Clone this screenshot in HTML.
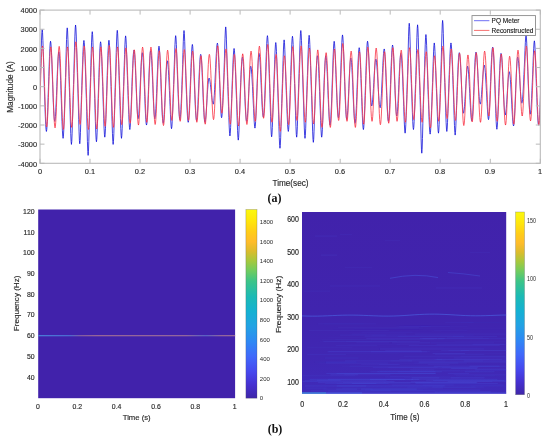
<!DOCTYPE html>
<html><head><meta charset="utf-8"><title>Figure</title><style>html,body{margin:0;padding:0;background:#fff}body{width:550px;height:440px;position:relative;overflow:hidden}</style></head><body>
<svg width="550" height="440" viewBox="0 0 550 440" style="display:block;position:absolute;left:0;top:0" font-family="'Liberation Sans', Arial, sans-serif">
<defs>
<clipPath id="c1"><rect x="40.0" y="10.1" width="500.3" height="153.2"/></clipPath>
<linearGradient id="par" x1="0" y1="1" x2="0" y2="0"><stop offset="0" stop-color="#3e26a8"/><stop offset="0.07" stop-color="#4530d0"/><stop offset="0.14" stop-color="#4648ee"/><stop offset="0.22" stop-color="#4068fb"/><stop offset="0.3" stop-color="#2e88f4"/><stop offset="0.38" stop-color="#22a2e4"/><stop offset="0.46" stop-color="#14b1d2"/><stop offset="0.54" stop-color="#1cbab4"/><stop offset="0.62" stop-color="#3cc488"/><stop offset="0.68" stop-color="#74cc5c"/><stop offset="0.73" stop-color="#a8c83c"/><stop offset="0.78" stop-color="#dcbc2c"/><stop offset="0.83" stop-color="#ffbc2a"/><stop offset="0.88" stop-color="#ffcc18"/><stop offset="0.94" stop-color="#ffe60c"/><stop offset="1" stop-color="#fbf80e"/></linearGradient>
<linearGradient id="l60" x1="0" y1="0" x2="1" y2="0"><stop offset="0" stop-color="#4a86dc"/><stop offset="0.16" stop-color="#4d70d4"/><stop offset="0.22" stop-color="#8a62a0"/><stop offset="0.3" stop-color="#a06c96"/><stop offset="0.75" stop-color="#9a6c9c"/><stop offset="0.85" stop-color="#5a66c8"/><stop offset="0.93" stop-color="#9a6c9c"/><stop offset="1" stop-color="#a07098"/></linearGradient>
<linearGradient id="rbg" x1="0" y1="0" x2="0" y2="1"><stop offset="0" stop-color="#4122ab"/><stop offset="0.55" stop-color="#4024ae"/><stop offset="0.8" stop-color="#4027b3"/><stop offset="1" stop-color="#3f2bba"/></linearGradient>
<filter id="bl" x="0" y="0" width="550" height="440" filterUnits="userSpaceOnUse"><feGaussianBlur stdDeviation="0.5"/></filter>
</defs>
<rect width="550" height="440" fill="#fff"/>
<g clip-path="url(#c1)"><g fill="none" stroke-linejoin="round" filter="url(#bl)">
<path transform="translate(-0.3 0)" d="M38.36 124.88 L38.70 123.54 L39.05 119.60 L39.39 113.33 L39.74 105.16 L40.08 95.64 L40.43 85.43 L40.77 75.15 L41.12 63.60 L41.46 51.25 L41.81 40.12 L42.15 32.36 L42.50 29.57 L42.85 32.43 L43.20 40.39 L43.55 51.74 L43.90 64.28 L44.25 75.93 L44.60 86.43 L44.95 96.91 L45.30 107.19 L45.65 116.73 L46.00 124.53 L46.35 129.66 L46.70 131.46 L47.05 129.69 L47.39 124.63 L47.74 116.92 L48.08 107.48 L48.43 97.27 L48.77 86.90 L49.12 76.53 L49.46 66.19 L49.81 56.45 L50.15 48.40 L50.50 43.07 L50.84 41.21 L51.19 42.99 L51.54 48.08 L51.89 55.71 L52.24 64.87 L52.59 74.50 L52.94 84.14 L53.29 93.77 L53.64 102.74 L53.99 110.45 L54.34 116.36 L54.69 120.08 L55.04 121.34 L55.39 120.16 L55.73 116.68 L56.08 111.15 L56.42 103.93 L56.77 95.54 L57.11 86.52 L57.46 77.51 L57.80 69.11 L58.15 61.90 L58.49 56.37 L58.84 52.89 L59.18 51.70 L59.53 53.03 L59.88 56.92 L60.23 63.10 L60.58 71.16 L60.93 80.55 L61.28 90.63 L61.63 100.72 L61.98 111.11 L62.33 121.40 L62.68 130.22 L63.03 136.21 L63.38 138.33 L63.73 136.15 L64.07 129.97 L64.42 120.81 L64.76 110.02 L65.11 98.97 L65.46 88.24 L65.80 77.47 L66.15 65.14 L66.49 51.73 L66.84 39.51 L67.18 30.94 L67.53 27.85 L67.88 30.95 L68.23 39.52 L68.58 51.65 L68.93 64.83 L69.28 76.73 L69.63 87.19 L69.98 97.64 L70.33 109.31 L70.68 121.95 L71.03 133.45 L71.38 141.52 L71.73 144.43 L72.07 141.48 L72.42 133.24 L72.76 121.40 L73.11 108.21 L73.45 95.77 L73.80 84.62 L74.14 73.46 L74.49 61.05 L74.83 47.90 L75.18 36.12 L75.52 27.93 L75.87 24.99 L76.22 27.92 L76.57 36.05 L76.92 47.67 L77.27 60.49 L77.62 72.40 L77.97 83.14 L78.32 93.88 L78.67 106.07 L79.02 119.52 L79.37 131.88 L79.72 140.61 L80.07 143.76 L80.41 140.73 L80.76 132.32 L81.10 120.37 L81.45 107.33 L81.79 95.48 L82.14 85.24 L82.48 75.05 L82.83 64.90 L83.17 55.36 L83.52 47.48 L83.86 42.27 L84.21 40.44 L84.56 42.37 L84.91 47.86 L85.26 56.17 L85.61 66.22 L85.96 76.94 L86.31 87.76 L86.66 98.63 L87.01 111.68 L87.36 126.89 L87.71 141.30 L88.06 151.64 L88.41 155.40 L88.76 151.72 L89.10 141.57 L89.45 127.35 L89.79 112.20 L90.14 99.04 L90.48 88.24 L90.83 77.48 L91.17 65.63 L91.52 53.19 L91.86 42.10 L92.21 34.42 L92.55 31.67 L92.90 34.45 L93.25 42.19 L93.60 53.29 L93.95 65.66 L94.30 77.31 L94.65 87.95 L95.00 98.60 L95.35 109.96 L95.70 121.70 L96.05 132.06 L96.40 139.21 L96.75 141.76 L97.10 139.24 L97.44 132.16 L97.79 121.86 L98.13 110.10 L98.48 98.62 L98.82 87.95 L99.17 77.32 L99.51 66.78 L99.86 56.97 L100.20 48.93 L100.55 43.63 L100.89 41.78 L101.24 43.60 L101.59 48.79 L101.94 56.65 L102.29 66.17 L102.64 76.34 L102.99 86.62 L103.34 96.91 L103.69 107.73 L104.04 118.71 L104.39 128.29 L104.74 134.84 L105.09 137.18 L105.44 134.84 L105.78 128.27 L106.13 118.62 L106.47 107.47 L106.82 96.37 L107.17 85.86 L107.51 75.36 L107.86 64.97 L108.20 55.28 L108.55 47.33 L108.89 42.09 L109.24 40.25 L109.59 42.12 L109.94 47.44 L110.29 55.51 L110.64 65.31 L110.99 75.80 L111.34 86.43 L111.69 97.08 L112.04 108.93 L112.39 121.73 L112.74 133.35 L113.09 141.50 L113.44 144.43 L113.78 141.56 L114.13 133.58 L114.47 122.16 L114.82 109.49 L115.16 97.68 L115.51 87.19 L115.85 76.70 L116.20 64.94 L116.54 52.37 L116.89 41.06 L117.23 33.17 L117.58 30.33 L117.93 33.16 L118.28 41.00 L118.63 52.17 L118.98 64.43 L119.33 75.71 L119.68 85.81 L120.03 95.90 L120.38 106.84 L120.73 118.35 L121.08 128.63 L121.43 135.77 L121.78 138.33 L122.12 135.82 L122.47 128.80 L122.81 118.66 L123.16 107.23 L123.50 96.28 L123.85 86.28 L124.19 76.30 L124.54 65.55 L124.88 54.53 L125.23 44.87 L125.57 38.23 L125.92 35.87 L126.27 38.24 L126.62 44.87 L126.97 54.47 L127.32 65.32 L127.67 75.79 L128.02 85.57 L128.37 95.33 L128.72 105.15 L129.07 114.55 L129.42 122.43 L129.77 127.70 L130.12 129.55 L130.47 127.75 L130.81 122.63 L131.16 114.96 L131.50 105.79 L131.85 96.20 L132.19 86.71 L132.54 77.26 L132.88 68.44 L133.23 60.88 L133.57 55.07 L133.92 51.42 L134.26 50.18 L134.61 51.34 L134.96 54.76 L135.31 60.21 L135.66 67.30 L136.01 75.56 L136.36 84.42 L136.71 93.29 L137.06 101.55 L137.41 108.64 L137.76 114.08 L138.11 117.51 L138.46 118.67 L138.81 117.55 L139.15 114.25 L139.50 109.00 L139.84 102.17 L140.19 94.21 L140.53 85.66 L140.88 77.12 L141.22 69.16 L141.57 62.32 L141.91 57.08 L142.26 53.78 L142.60 52.66 L142.95 53.84 L143.30 57.32 L143.65 62.85 L144.00 70.07 L144.35 78.46 L144.70 87.48 L145.05 96.49 L145.40 105.21 L145.75 113.12 L146.10 119.49 L146.45 123.63 L146.80 125.06 L147.15 123.60 L147.49 119.38 L147.84 112.88 L148.18 104.76 L148.53 95.79 L148.88 86.52 L149.22 77.26 L149.57 68.64 L149.91 61.23 L150.26 55.54 L150.60 51.97 L150.95 50.75 L151.30 51.91 L151.65 55.30 L152.00 60.70 L152.35 67.73 L152.70 75.92 L153.05 84.71 L153.40 93.50 L153.75 101.69 L154.10 108.73 L154.45 114.12 L154.80 117.52 L155.15 118.67 L155.49 117.52 L155.84 114.12 L156.18 108.73 L156.53 101.69 L156.87 93.50 L157.22 84.71 L157.56 75.90 L157.91 67.14 L158.25 58.94 L158.60 52.19 L158.94 47.73 L159.29 46.17 L159.64 47.82 L159.99 52.53 L160.34 59.67 L160.69 68.34 L161.04 77.61 L161.39 87.00 L161.74 96.38 L162.09 105.13 L162.44 112.63 L162.79 118.40 L163.14 122.02 L163.49 123.25 L163.83 122.19 L164.18 119.07 L164.52 114.10 L164.87 107.63 L165.21 100.09 L165.56 92.01 L165.90 83.92 L166.25 76.39 L166.59 69.92 L166.94 64.95 L167.28 61.83 L167.63 60.77 L167.98 61.78 L168.33 64.77 L168.68 69.51 L169.03 75.70 L169.38 82.90 L169.73 90.63 L170.08 98.37 L170.43 106.52 L170.78 114.78 L171.13 121.99 L171.48 126.93 L171.83 128.69 L172.18 126.74 L172.52 121.23 L172.87 113.08 L173.21 103.53 L173.56 93.83 L173.90 84.47 L174.25 75.10 L174.59 64.83 L174.94 54.11 L175.28 44.60 L175.63 38.03 L175.97 35.67 L176.32 38.04 L176.67 44.65 L177.02 54.14 L177.37 64.76 L177.72 74.81 L178.07 84.04 L178.42 93.25 L178.77 101.83 L179.12 109.20 L179.47 114.86 L179.82 118.41 L180.17 119.63 L180.52 118.43 L180.86 114.93 L181.21 109.36 L181.55 102.10 L181.90 93.64 L182.24 84.57 L182.59 75.41 L182.93 64.61 L183.28 52.51 L183.62 41.32 L183.97 33.39 L184.31 30.52 L184.66 33.45 L185.01 41.52 L185.36 52.87 L185.71 65.03 L186.06 75.78 L186.41 85.00 L186.76 94.19 L187.11 102.95 L187.46 110.76 L187.81 116.95 L188.16 120.92 L188.51 122.30 L188.86 120.96 L189.20 117.07 L189.55 111.02 L189.89 103.38 L190.24 94.79 L190.59 85.81 L190.93 76.80 L191.28 67.61 L191.62 58.73 L191.97 51.24 L192.31 46.22 L192.66 44.45 L193.01 46.24 L193.36 51.30 L193.71 58.83 L194.06 67.71 L194.41 76.85 L194.76 85.86 L195.11 94.84 L195.46 103.22 L195.81 110.41 L196.16 115.93 L196.51 119.40 L196.86 120.58 L197.20 119.48 L197.55 116.24 L197.89 111.08 L198.24 104.36 L198.58 96.54 L198.93 88.14 L199.27 79.74 L199.62 71.76 L199.96 64.70 L200.31 59.15 L200.65 55.60 L201.00 54.37 L201.35 55.63 L201.70 59.27 L202.05 64.97 L202.40 72.20 L202.75 80.38 L203.10 89.00 L203.45 97.62 L203.80 105.65 L204.15 112.55 L204.50 117.84 L204.85 121.16 L205.20 122.30 L205.54 121.54 L205.89 119.33 L206.23 115.82 L206.58 111.23 L206.92 105.89 L207.27 100.17 L207.61 94.44 L207.96 89.10 L208.30 84.51 L208.65 81.00 L208.99 78.79 L209.34 78.03 L209.69 78.48 L210.04 79.78 L210.39 81.86 L210.74 84.57 L211.09 87.72 L211.44 91.10 L211.79 94.48 L212.14 97.64 L212.49 100.34 L212.84 102.42 L213.19 103.73 L213.54 104.17 L213.89 103.18 L214.23 100.26 L214.58 95.62 L214.92 89.58 L215.27 82.54 L215.61 74.98 L215.96 67.41 L216.30 60.04 L216.65 53.31 L216.99 47.88 L217.34 44.35 L217.68 43.12 L218.03 44.51 L218.38 48.51 L218.73 54.67 L219.08 62.34 L219.43 70.78 L219.78 79.51 L220.13 88.25 L220.48 96.90 L220.83 105.02 L221.18 111.73 L221.53 116.16 L221.88 117.72 L222.23 116.23 L222.57 111.97 L222.92 105.54 L223.26 97.73 L223.61 89.42 L223.95 81.09 L224.30 72.67 L224.64 62.19 L224.99 49.91 L225.33 38.28 L225.68 29.93 L226.02 26.90 L226.37 30.17 L226.72 39.19 L227.07 51.79 L227.42 65.18 L227.77 76.79 L228.12 86.57 L228.47 96.33 L228.82 106.76 L229.17 117.53 L229.52 127.04 L229.87 133.60 L230.22 135.94 L230.57 133.72 L230.91 127.49 L231.26 118.47 L231.60 108.25 L231.95 98.38 L232.30 89.29 L232.64 80.23 L232.99 71.07 L233.33 62.34 L233.68 55.04 L234.02 50.17 L234.37 48.46 L234.72 50.21 L235.07 55.20 L235.42 62.66 L235.77 71.57 L236.12 80.88 L236.47 90.15 L236.82 99.43 L237.17 109.70 L237.52 120.71 L237.87 130.67 L238.22 137.63 L238.57 140.14 L238.91 137.71 L239.26 130.97 L239.60 121.29 L239.95 110.55 L240.29 100.49 L240.64 91.53 L240.98 82.63 L241.33 74.34 L241.67 67.21 L242.02 61.75 L242.36 58.31 L242.71 57.14 L243.06 58.23 L243.41 61.44 L243.76 66.54 L244.11 73.19 L244.46 80.93 L244.81 89.24 L245.16 97.55 L245.51 105.29 L245.86 111.94 L246.21 117.04 L246.56 120.25 L246.91 121.34 L247.25 120.40 L247.60 117.65 L247.94 113.27 L248.29 107.56 L248.63 100.91 L248.98 93.77 L249.32 86.64 L249.67 79.99 L250.01 74.28 L250.36 69.90 L250.70 67.14 L251.05 66.20 L251.40 67.14 L251.75 69.90 L252.10 74.28 L252.45 79.99 L252.80 86.64 L253.15 93.77 L253.50 100.92 L253.85 108.35 L254.20 115.78 L254.55 122.20 L254.90 126.57 L255.25 128.12 L255.60 126.36 L255.94 121.39 L256.29 113.99 L256.63 105.23 L256.98 96.20 L257.32 87.38 L257.67 78.59 L258.01 70.40 L258.36 63.37 L258.70 57.97 L259.05 54.58 L259.39 53.42 L259.74 54.50 L260.09 57.68 L260.44 62.72 L260.79 69.30 L261.14 76.97 L261.49 85.19 L261.84 93.41 L262.19 101.07 L262.54 107.65 L262.89 112.70 L263.24 115.87 L263.59 116.96 L263.94 115.72 L264.28 112.10 L264.63 106.34 L264.97 98.83 L265.32 90.09 L265.66 80.70 L266.01 71.28 L266.35 61.45 L266.70 51.71 L267.04 43.35 L267.39 37.68 L267.73 35.67 L268.08 37.79 L268.43 43.78 L268.78 52.60 L269.13 62.89 L269.48 73.28 L269.83 83.37 L270.18 93.48 L270.53 104.53 L270.88 116.27 L271.23 126.81 L271.58 134.16 L271.93 136.80 L272.28 134.37 L272.62 127.59 L272.97 117.90 L273.31 107.17 L273.66 97.19 L274.00 88.34 L274.35 79.50 L274.70 69.84 L275.04 59.79 L275.39 50.89 L275.73 44.74 L276.08 42.54 L276.43 44.93 L276.78 51.60 L277.13 61.28 L277.48 72.26 L277.83 82.92 L278.18 92.91 L278.53 102.92 L278.88 114.15 L279.23 126.39 L279.58 137.56 L279.93 145.42 L280.28 148.25 L280.62 145.48 L280.97 137.78 L281.31 126.79 L281.66 114.67 L282.00 103.46 L282.35 93.58 L282.69 83.71 L283.04 72.62 L283.38 60.74 L283.73 50.03 L284.07 42.56 L284.42 39.87 L284.77 42.48 L285.12 49.70 L285.47 59.94 L285.82 71.10 L286.17 81.24 L286.52 90.20 L286.87 99.13 L287.22 108.23 L287.57 117.09 L287.92 124.61 L288.27 129.67 L288.62 131.46 L288.96 129.53 L289.31 124.05 L289.65 115.83 L290.00 106.02 L290.34 95.76 L290.69 85.62 L291.03 75.46 L291.38 64.76 L291.72 54.05 L292.07 44.79 L292.41 38.49 L292.76 36.25 L293.11 38.44 L293.46 44.59 L293.81 53.56 L294.16 63.83 L294.51 73.93 L294.86 83.52 L295.21 93.12 L295.56 103.95 L295.91 115.84 L296.26 126.74 L296.61 134.41 L296.96 137.18 L297.31 134.44 L297.65 126.82 L298.00 115.95 L298.34 103.97 L298.69 92.91 L299.03 83.18 L299.38 73.47 L299.72 62.57 L300.07 50.93 L300.41 40.45 L300.76 33.15 L301.10 30.52 L301.45 33.21 L301.80 40.70 L302.15 51.38 L302.50 63.19 L302.85 74.17 L303.20 84.09 L303.55 94.01 L303.90 105.07 L304.25 117.05 L304.60 127.93 L304.95 135.57 L305.30 138.33 L305.65 135.65 L305.99 128.21 L306.34 117.56 L306.68 105.79 L307.03 94.86 L307.37 85.19 L307.72 75.53 L308.06 65.00 L308.41 54.05 L308.75 44.37 L309.10 37.68 L309.44 35.29 L309.79 37.74 L310.14 44.57 L310.49 54.43 L310.84 65.52 L311.19 76.12 L311.54 85.95 L311.89 95.79 L312.24 107.05 L312.59 119.59 L312.94 131.17 L313.29 139.37 L313.64 142.33 L313.99 139.54 L314.33 131.83 L314.68 120.93 L315.02 109.17 L315.37 98.66 L315.72 89.77 L316.06 80.95 L316.41 72.74 L316.75 65.68 L317.10 60.27 L317.44 56.87 L317.79 55.71 L318.14 56.93 L318.49 60.51 L318.84 66.21 L319.19 73.64 L319.54 82.30 L319.89 91.58 L320.24 100.88 L320.59 110.65 L320.94 120.55 L321.29 129.17 L321.64 135.08 L321.99 137.18 L322.33 135.10 L322.68 129.25 L323.02 120.67 L323.37 110.76 L323.71 100.90 L324.06 91.58 L324.40 82.30 L324.75 73.64 L325.09 66.21 L325.44 60.51 L325.78 56.93 L326.13 55.71 L326.48 56.89 L326.83 60.36 L327.18 65.88 L327.53 73.07 L327.88 81.45 L328.23 90.43 L328.58 99.42 L328.93 107.80 L329.28 114.99 L329.63 120.51 L329.98 123.98 L330.33 125.16 L330.67 123.86 L331.02 120.05 L331.36 114.00 L331.71 106.10 L332.05 96.91 L332.40 87.05 L332.74 77.15 L333.09 67.01 L333.43 57.18 L333.78 48.86 L334.12 43.27 L334.47 41.30 L334.82 43.17 L335.17 48.42 L335.52 56.18 L335.87 65.24 L336.22 74.41 L336.57 83.33 L336.92 92.23 L337.27 100.52 L337.62 107.65 L337.97 113.11 L338.32 116.55 L338.67 117.72 L339.02 116.45 L339.36 112.75 L339.71 106.85 L340.05 99.16 L340.40 90.21 L340.74 80.61 L341.09 70.97 L341.43 60.95 L341.78 51.08 L342.12 42.64 L342.47 36.93 L342.81 34.91 L343.16 36.98 L343.51 42.82 L343.86 51.44 L344.21 61.48 L344.56 71.62 L344.91 81.47 L345.26 91.29 L345.61 100.45 L345.96 108.32 L346.31 114.35 L346.66 118.14 L347.01 119.44 L347.36 118.39 L347.70 115.32 L348.05 110.44 L348.39 104.08 L348.74 96.67 L349.08 88.72 L349.43 80.77 L349.77 73.36 L350.12 67.00 L350.46 62.11 L350.81 59.05 L351.15 58.00 L351.50 59.11 L351.85 62.37 L352.20 67.55 L352.55 74.31 L352.90 82.18 L353.25 90.63 L353.60 99.07 L353.95 106.94 L354.30 113.70 L354.65 118.88 L355.00 122.14 L355.35 123.25 L355.70 122.03 L356.04 118.46 L356.39 112.77 L356.73 105.36 L357.08 96.74 L357.43 87.48 L357.77 78.20 L358.12 69.08 L358.46 60.65 L358.81 53.77 L359.15 49.27 L359.50 47.70 L359.85 49.29 L360.20 53.87 L360.55 60.84 L360.90 69.36 L361.25 78.56 L361.60 87.95 L361.95 97.35 L362.30 106.70 L362.65 115.57 L363.00 122.93 L363.35 127.83 L363.70 129.55 L364.04 127.76 L364.39 122.67 L364.73 114.96 L365.08 105.62 L365.42 95.66 L365.77 85.66 L366.11 75.66 L366.46 65.64 L366.80 56.15 L367.15 48.27 L367.49 43.04 L367.84 41.21 L368.19 42.75 L368.54 47.10 L368.89 53.55 L369.24 61.15 L369.59 68.93 L369.94 76.55 L370.29 84.17 L370.64 91.27 L370.99 97.36 L371.34 102.04 L371.69 104.98 L372.04 105.98 L372.38 105.18 L372.73 102.83 L373.07 99.10 L373.42 94.23 L373.76 88.55 L374.11 82.47 L374.45 76.38 L374.80 70.71 L375.14 65.84 L375.49 62.10 L375.83 59.75 L376.18 58.95 L376.53 59.78 L376.88 62.22 L377.23 66.11 L377.58 71.16 L377.93 77.05 L378.28 83.37 L378.63 89.70 L378.98 95.59 L379.33 100.64 L379.68 104.53 L380.03 106.97 L380.38 107.80 L380.73 106.84 L381.07 104.04 L381.42 99.58 L381.76 93.77 L382.11 87.01 L382.45 79.75 L382.80 72.48 L383.14 65.37 L383.49 58.86 L383.83 53.58 L384.18 50.13 L384.52 48.94 L384.87 50.37 L385.22 54.51 L385.57 60.88 L385.92 68.79 L386.27 77.51 L386.62 86.52 L386.97 95.54 L387.32 103.93 L387.67 111.15 L388.02 116.68 L388.37 120.16 L388.72 121.34 L389.07 120.09 L389.41 116.41 L389.76 110.56 L390.10 102.93 L390.45 94.05 L390.79 84.52 L391.14 74.98 L391.48 65.77 L391.83 57.46 L392.17 50.82 L392.52 46.51 L392.86 45.02 L393.21 46.43 L393.56 50.48 L393.91 56.71 L394.26 64.46 L394.61 73.00 L394.96 81.85 L395.31 90.69 L395.66 98.92 L396.01 106.00 L396.36 111.43 L396.71 114.84 L397.06 116.00 L397.41 114.94 L397.75 111.81 L398.10 106.84 L398.44 100.36 L398.79 92.81 L399.13 84.71 L399.48 76.61 L399.83 69.06 L400.17 62.58 L400.52 57.61 L400.86 54.49 L401.21 53.42 L401.56 54.59 L401.91 58.03 L402.26 63.51 L402.61 70.64 L402.96 78.95 L403.31 87.86 L403.66 96.79 L404.01 106.35 L404.36 116.24 L404.71 124.98 L405.06 131.02 L405.41 133.17 L405.75 130.95 L406.10 124.68 L406.44 115.54 L406.79 105.04 L407.13 94.70 L407.48 85.00 L407.82 75.24 L408.17 63.22 L408.51 49.27 L408.86 36.11 L409.20 26.69 L409.55 23.27 L409.90 26.71 L410.25 36.13 L410.60 49.18 L410.95 62.82 L411.30 74.31 L411.65 83.66 L412.00 92.99 L412.35 102.80 L412.70 112.77 L413.05 121.47 L413.40 127.43 L413.75 129.55 L414.09 127.48 L414.44 121.67 L414.78 113.16 L415.13 103.37 L415.47 93.68 L415.82 84.57 L416.16 75.39 L416.51 63.87 L416.85 50.32 L417.20 37.43 L417.54 28.17 L417.89 24.80 L418.24 28.27 L418.59 37.80 L418.94 51.01 L419.29 64.81 L419.64 76.44 L419.99 85.90 L420.34 95.38 L420.69 107.72 L421.04 123.09 L421.39 138.16 L421.74 149.17 L422.09 153.21 L422.44 149.28 L422.78 138.55 L423.13 123.79 L423.47 108.61 L423.82 96.27 L424.16 87.00 L424.51 77.79 L424.85 67.15 L425.20 55.47 L425.54 44.77 L425.89 37.24 L426.23 34.53 L426.58 37.38 L426.93 45.28 L427.28 56.49 L427.63 68.73 L427.98 79.88 L428.33 89.77 L428.68 99.63 L429.03 109.54 L429.38 119.02 L429.73 126.96 L430.08 132.26 L430.43 134.13 L430.78 132.34 L431.12 127.27 L431.47 119.68 L431.81 110.61 L432.16 101.13 L432.50 91.77 L432.85 82.38 L433.19 72.10 L433.54 61.38 L433.88 51.86 L434.23 45.28 L434.57 42.93 L434.92 45.20 L435.27 51.53 L435.62 60.58 L435.97 70.62 L436.32 80.01 L436.67 88.53 L437.02 97.04 L437.37 106.32 L437.72 116.12 L438.07 124.89 L438.42 130.99 L438.77 133.17 L439.12 130.85 L439.46 124.34 L439.81 114.86 L440.15 104.06 L440.50 93.53 L440.85 83.76 L441.19 73.92 L441.54 61.66 L441.88 47.32 L442.23 33.72 L442.57 23.96 L442.92 20.41 L443.27 23.98 L443.62 33.74 L443.97 47.24 L444.32 61.28 L444.67 72.99 L445.02 82.42 L445.37 91.83 L445.72 102.04 L446.07 112.79 L446.42 122.39 L446.77 129.07 L447.12 131.46 L447.46 129.14 L447.81 122.68 L448.15 113.35 L448.50 102.88 L448.84 92.88 L449.19 83.80 L449.53 74.75 L449.88 65.60 L450.22 56.85 L450.57 49.53 L450.91 44.64 L451.26 42.93 L451.61 44.69 L451.96 49.70 L452.31 57.19 L452.66 66.12 L453.01 75.44 L453.36 84.71 L453.71 94.00 L454.06 104.31 L454.41 115.42 L454.76 125.49 L455.11 132.54 L455.46 135.08 L455.80 132.64 L456.15 125.85 L456.49 116.14 L456.84 105.40 L457.18 95.41 L457.53 86.57 L457.87 77.79 L458.22 69.61 L458.56 62.59 L458.91 57.20 L459.25 53.81 L459.60 52.66 L459.95 53.69 L460.30 56.71 L460.65 61.53 L461.00 67.80 L461.35 75.11 L461.70 82.95 L462.05 90.78 L462.40 98.09 L462.75 104.36 L463.10 109.18 L463.45 112.20 L463.80 113.23 L464.15 112.43 L464.49 110.08 L464.84 106.35 L465.18 101.48 L465.53 95.81 L465.87 89.72 L466.22 83.63 L466.56 77.96 L466.91 73.09 L467.25 69.35 L467.60 67.00 L467.94 66.20 L468.29 67.14 L468.64 69.87 L468.99 74.22 L469.34 79.89 L469.69 86.50 L470.04 93.58 L470.39 100.67 L470.74 107.27 L471.09 112.94 L471.44 117.29 L471.79 120.03 L472.14 120.96 L472.49 119.79 L472.83 116.35 L473.18 110.88 L473.52 103.74 L473.87 95.44 L474.21 86.52 L474.56 77.61 L474.90 69.30 L475.25 62.17 L475.59 56.70 L475.94 53.26 L476.28 52.08 L476.63 52.97 L476.98 55.57 L477.33 59.71 L477.68 65.11 L478.03 71.39 L478.38 78.13 L478.73 84.87 L479.08 91.15 L479.43 96.54 L479.78 100.68 L480.13 103.28 L480.48 104.17 L480.83 103.51 L481.17 101.56 L481.52 98.47 L481.86 94.44 L482.21 89.75 L482.56 84.71 L482.90 79.67 L483.25 74.98 L483.59 70.95 L483.94 67.86 L484.28 65.91 L484.63 65.25 L484.98 66.11 L485.33 68.65 L485.68 72.68 L486.03 77.94 L486.38 84.06 L486.73 90.63 L487.08 97.20 L487.43 103.74 L487.78 109.91 L488.13 115.03 L488.48 118.43 L488.83 119.63 L489.17 118.13 L489.52 113.85 L489.86 107.30 L490.21 99.25 L490.55 90.49 L490.90 81.56 L491.24 72.65 L491.59 64.34 L491.93 57.21 L492.28 51.74 L492.62 48.30 L492.97 47.12 L493.32 48.39 L493.67 52.09 L494.02 57.99 L494.37 65.68 L494.72 74.63 L495.07 84.23 L495.42 93.85 L495.77 103.71 L496.12 113.41 L496.47 121.69 L496.82 127.28 L497.17 129.26 L497.51 127.41 L497.86 122.17 L498.20 114.43 L498.55 105.38 L498.89 96.20 L499.24 87.38 L499.58 78.59 L499.93 70.40 L500.27 63.37 L500.62 57.97 L500.96 54.58 L501.31 53.42 L501.66 54.47 L502.01 57.55 L502.36 62.44 L502.71 68.83 L503.06 76.26 L503.41 84.23 L503.76 92.21 L504.11 99.64 L504.46 106.02 L504.81 110.92 L505.16 114.00 L505.51 115.05 L505.86 114.31 L506.20 112.15 L506.55 108.70 L506.89 104.22 L507.24 99.00 L507.58 93.39 L507.93 87.79 L508.27 82.56 L508.62 78.08 L508.96 74.64 L509.31 72.47 L509.65 71.74 L510.00 72.63 L510.35 75.25 L510.70 79.42 L511.05 84.85 L511.40 91.18 L511.75 97.97 L512.10 104.76 L512.45 111.29 L512.80 117.16 L513.15 121.84 L513.50 124.87 L513.85 125.92 L514.20 124.63 L514.54 120.88 L514.89 115.04 L515.23 107.66 L515.58 99.36 L515.92 90.67 L516.27 81.99 L516.61 73.91 L516.96 66.96 L517.30 61.63 L517.65 58.28 L517.99 57.14 L518.34 57.92 L518.69 60.23 L519.04 63.89 L519.39 68.66 L519.74 74.22 L520.09 80.18 L520.44 86.14 L520.79 91.70 L521.14 96.47 L521.49 100.13 L521.84 102.43 L522.19 103.22 L522.54 102.25 L522.88 99.40 L523.23 94.86 L523.57 88.96 L523.92 82.08 L524.27 74.69 L524.61 67.26 L524.96 58.99 L525.30 50.21 L525.65 42.35 L525.99 36.87 L526.34 34.91 L526.69 37.09 L527.04 43.17 L527.39 51.96 L527.74 61.86 L528.09 71.36 L528.44 80.18 L528.79 88.98 L529.14 97.18 L529.49 104.23 L529.84 109.63 L530.19 113.03 L530.54 114.19 L530.88 113.11 L531.23 109.94 L531.57 104.90 L531.92 98.33 L532.26 90.68 L532.61 82.47 L532.95 74.22 L533.30 65.34 L533.64 56.24 L533.99 48.26 L534.33 42.78 L534.68 40.83 L535.03 42.99 L535.38 49.08 L535.73 57.97 L536.08 68.19 L536.43 78.31 L536.78 87.95 L537.13 97.58 L537.48 106.56 L537.83 114.26 L538.18 120.18 L538.53 123.89 L538.88 125.16 L539.22 123.95 L539.57 120.42 L539.91 114.79 L540.26 107.46 L540.60 98.93 L540.95 89.77 L541.29 80.61 L541.64 72.07 L541.98 64.74 L542.33 59.12 L542.67 55.58 L543.02 54.37" stroke="#0000d6" stroke-width="0.74"/>
<path d="M38.36 124.88 L38.70 123.54 L39.05 119.60 L39.39 113.33 L39.74 105.16 L40.08 95.64 L40.43 85.43 L40.77 75.22 L41.12 65.70 L41.46 57.53 L41.81 51.26 L42.15 47.32 L42.50 45.98 L42.85 47.36 L43.20 51.40 L43.55 57.83 L43.90 66.20 L44.25 75.96 L44.60 86.43 L44.95 96.90 L45.30 106.65 L45.65 115.03 L46.00 121.46 L46.35 125.50 L46.70 126.88 L47.05 125.52 L47.39 121.52 L47.74 115.17 L48.08 106.89 L48.43 97.25 L48.77 86.90 L49.12 76.56 L49.46 66.92 L49.81 58.64 L50.15 52.29 L50.50 48.29 L50.84 46.93 L51.19 48.31 L51.54 52.35 L51.89 58.78 L52.24 67.16 L52.59 76.91 L52.94 87.38 L53.29 97.85 L53.64 107.61 L53.99 115.98 L54.34 122.41 L54.69 126.45 L55.04 127.83 L55.39 126.44 L55.73 122.37 L56.08 115.90 L56.42 107.46 L56.77 97.64 L57.11 87.10 L57.46 76.55 L57.80 66.73 L58.15 58.29 L58.49 51.82 L58.84 47.75 L59.18 46.36 L59.53 47.78 L59.88 51.93 L60.23 58.54 L60.58 67.16 L60.93 77.19 L61.28 87.95 L61.63 98.72 L61.98 108.75 L62.33 117.37 L62.68 123.98 L63.03 128.13 L63.38 129.55 L63.73 128.14 L64.07 124.01 L64.42 117.45 L64.76 108.89 L65.11 98.93 L65.46 88.24 L65.80 77.55 L66.15 67.59 L66.49 59.03 L66.84 52.47 L67.18 48.34 L67.53 46.93 L67.88 48.30 L68.23 52.33 L68.58 58.72 L68.93 67.06 L69.28 76.77 L69.63 87.19 L69.98 97.61 L70.33 107.32 L70.68 115.66 L71.03 122.06 L71.38 126.08 L71.73 127.45 L72.07 125.99 L72.42 121.71 L72.76 114.90 L73.11 106.03 L73.45 95.70 L73.80 84.62 L74.14 73.53 L74.49 63.20 L74.83 54.33 L75.18 47.52 L75.52 43.24 L75.87 41.78 L76.22 43.19 L76.57 47.32 L76.92 53.89 L77.27 62.46 L77.62 72.43 L77.97 83.14 L78.32 93.84 L78.67 103.81 L79.02 112.38 L79.37 118.95 L79.72 123.08 L80.07 124.49 L80.41 123.15 L80.76 119.23 L81.10 112.99 L81.45 104.86 L81.79 95.40 L82.14 85.24 L82.48 75.07 L82.83 65.61 L83.17 57.48 L83.52 51.24 L83.86 47.32 L84.21 45.98 L84.56 47.40 L84.91 51.58 L85.26 58.22 L85.61 66.87 L85.96 76.95 L86.31 87.76 L86.66 98.58 L87.01 108.66 L87.36 117.31 L87.71 123.95 L88.06 128.12 L88.41 129.55 L88.76 128.14 L89.10 124.01 L89.45 117.45 L89.79 108.89 L90.14 98.93 L90.48 88.24 L90.83 77.55 L91.17 67.59 L91.52 59.03 L91.86 52.47 L92.21 48.34 L92.55 46.93 L92.90 48.33 L93.25 52.43 L93.60 58.95 L93.95 67.44 L94.30 77.34 L94.65 87.95 L95.00 98.57 L95.35 108.46 L95.70 116.96 L96.05 123.48 L96.40 127.58 L96.75 128.98 L97.10 127.58 L97.44 123.48 L97.79 116.96 L98.13 108.47 L98.48 98.57 L98.82 87.95 L99.17 77.34 L99.51 67.44 L99.86 58.95 L100.20 52.43 L100.55 48.33 L100.89 46.93 L101.24 48.28 L101.59 52.25 L101.94 58.56 L102.29 66.78 L102.64 76.35 L102.99 86.62 L103.34 96.89 L103.69 106.46 L104.04 114.68 L104.39 120.99 L104.74 124.95 L105.09 126.30 L105.44 124.93 L105.78 120.89 L106.13 114.46 L106.47 106.08 L106.82 96.32 L107.17 85.86 L107.51 75.39 L107.86 65.63 L108.20 57.25 L108.55 50.82 L108.89 46.78 L109.24 45.41 L109.59 46.80 L109.94 50.90 L110.29 57.42 L110.64 65.92 L110.99 75.81 L111.34 86.43 L111.69 97.04 L112.04 106.94 L112.39 115.43 L112.74 121.95 L113.09 126.05 L113.44 127.45 L113.78 126.08 L114.13 122.06 L114.47 115.66 L114.82 107.32 L115.16 97.61 L115.51 87.19 L115.85 76.77 L116.20 67.06 L116.54 58.72 L116.89 52.33 L117.23 48.30 L117.58 46.93 L117.93 48.26 L118.28 52.14 L118.63 58.32 L118.98 66.37 L119.33 75.75 L119.68 85.81 L120.03 95.87 L120.38 105.25 L120.73 113.30 L121.08 119.47 L121.43 123.36 L121.78 124.68 L122.12 123.37 L122.47 119.54 L122.81 113.44 L123.16 105.48 L123.50 96.22 L123.85 86.28 L124.19 76.35 L124.54 67.09 L124.88 59.13 L125.23 53.03 L125.57 49.19 L125.92 47.89 L126.27 49.17 L126.62 52.93 L126.97 58.92 L127.32 66.73 L127.67 75.82 L128.02 85.57 L128.37 95.32 L128.72 104.41 L129.07 112.21 L129.42 118.20 L129.77 121.97 L130.12 123.25 L130.47 122.00 L130.81 118.33 L131.16 112.49 L131.50 104.89 L131.85 96.03 L132.19 86.52 L132.54 77.02 L132.88 68.16 L133.23 60.55 L133.57 54.71 L133.92 51.05 L134.26 49.79 L134.61 51.08 L134.96 54.84 L135.31 60.82 L135.66 68.61 L136.01 77.69 L136.36 87.43 L136.71 97.17 L137.06 106.25 L137.41 114.04 L137.76 120.02 L138.11 123.78 L138.46 125.06 L138.81 123.74 L139.15 119.84 L139.50 113.65 L139.84 105.58 L140.19 96.18 L140.53 86.09 L140.88 76.01 L141.22 66.61 L141.57 58.54 L141.91 52.34 L142.26 48.45 L142.60 47.12 L142.95 48.40 L143.30 52.16 L143.65 58.13 L144.00 65.92 L144.35 74.98 L144.70 84.71 L145.05 94.44 L145.40 103.50 L145.75 111.29 L146.10 117.26 L146.45 121.02 L146.80 122.30 L147.15 121.02 L147.49 117.26 L147.84 111.29 L148.18 103.50 L148.53 94.44 L148.88 84.71 L149.22 74.98 L149.57 65.92 L149.91 58.13 L150.26 52.16 L150.60 48.40 L150.95 47.12 L151.30 48.44 L151.65 52.31 L152.00 58.45 L152.35 66.47 L152.70 75.80 L153.05 85.81 L153.40 95.82 L153.75 105.15 L154.10 113.16 L154.45 119.31 L154.80 123.17 L155.15 124.49 L155.49 123.24 L155.84 119.55 L156.18 113.69 L156.53 106.06 L156.87 97.16 L157.22 87.62 L157.56 78.08 L157.91 69.18 L158.25 61.55 L158.60 55.69 L158.94 52.00 L159.29 50.75 L159.64 52.02 L159.99 55.76 L160.34 61.70 L160.69 69.45 L161.04 78.47 L161.39 88.14 L161.74 97.82 L162.09 106.84 L162.44 114.59 L162.79 120.53 L163.14 124.27 L163.49 125.54 L163.83 124.26 L164.18 120.49 L164.52 114.50 L164.87 106.70 L165.21 97.61 L165.56 87.86 L165.90 78.11 L166.25 69.02 L166.59 61.21 L166.94 55.22 L167.28 51.46 L167.63 50.18 L167.98 51.37 L168.33 54.89 L168.68 60.47 L169.03 67.75 L169.38 76.23 L169.73 85.33 L170.08 94.43 L170.43 102.91 L170.78 110.19 L171.13 115.78 L171.48 119.29 L171.83 120.49 L172.18 119.26 L172.52 115.66 L172.87 109.94 L173.21 102.48 L173.56 93.79 L173.90 84.47 L174.25 75.15 L174.59 66.47 L174.94 59.01 L175.28 53.28 L175.63 49.69 L175.97 48.46 L176.32 49.70 L176.67 53.34 L177.02 59.13 L177.37 66.68 L177.72 75.47 L178.07 84.90 L178.42 94.33 L178.77 103.12 L179.12 110.67 L179.47 116.46 L179.82 120.10 L180.17 121.34 L180.52 120.12 L180.86 116.53 L181.21 110.82 L181.55 103.38 L181.90 94.72 L182.24 85.43 L182.59 76.13 L182.93 67.47 L183.28 60.03 L183.62 54.32 L183.97 50.73 L184.31 49.51 L184.66 50.72 L185.01 54.26 L185.36 59.90 L185.71 67.25 L186.06 75.81 L186.41 85.00 L186.76 94.18 L187.11 102.74 L187.46 110.09 L187.81 115.73 L188.16 119.28 L188.51 120.49 L188.86 119.30 L189.20 115.84 L189.55 110.33 L189.89 103.15 L190.24 94.78 L190.59 85.81 L190.93 76.83 L191.28 68.47 L191.62 61.29 L191.97 55.78 L192.31 52.31 L192.66 51.13 L193.01 52.34 L193.36 55.90 L193.71 61.55 L194.06 68.92 L194.41 77.50 L194.76 86.71 L195.11 95.92 L195.46 104.51 L195.81 111.88 L196.16 117.53 L196.51 121.09 L196.86 122.30 L197.20 121.16 L197.55 117.84 L197.89 112.55 L198.24 105.65 L198.58 97.62 L198.93 89.00 L199.27 80.39 L199.62 72.36 L199.96 65.46 L200.31 60.17 L200.65 56.84 L201.00 55.71 L201.35 56.88 L201.70 60.30 L202.05 65.74 L202.40 72.83 L202.75 81.09 L203.10 89.96 L203.45 98.82 L203.80 107.08 L204.15 114.17 L204.50 119.62 L204.85 123.04 L205.20 124.21 L205.54 123.02 L205.89 119.53 L206.23 113.98 L206.58 106.75 L206.92 98.33 L207.27 89.29 L207.61 80.25 L207.96 71.83 L208.30 64.60 L208.65 59.05 L208.99 55.56 L209.34 54.37 L209.69 55.48 L210.04 58.74 L210.39 63.93 L210.74 70.69 L211.09 78.56 L211.44 87.00 L211.79 95.44 L212.14 103.31 L212.49 110.07 L212.84 115.26 L213.19 118.52 L213.54 119.63 L213.89 118.37 L214.23 114.68 L214.58 108.81 L214.92 101.17 L215.27 92.26 L215.61 82.71 L215.96 73.15 L216.30 64.25 L216.65 56.60 L216.99 50.73 L217.34 47.05 L217.68 45.79 L218.03 46.94 L218.38 50.31 L218.73 55.66 L219.08 62.65 L219.43 70.78 L219.78 79.51 L220.13 88.24 L220.48 96.37 L220.83 103.36 L221.18 108.72 L221.53 112.09 L221.88 113.23 L222.23 112.14 L222.57 108.93 L222.92 103.82 L223.26 97.16 L223.61 89.41 L223.95 81.09 L224.30 72.76 L224.64 65.01 L224.99 58.35 L225.33 53.24 L225.68 50.03 L226.02 48.94 L226.37 50.22 L226.72 53.98 L227.07 59.96 L227.42 67.75 L227.77 76.83 L228.12 86.57 L228.47 96.31 L228.82 105.39 L229.17 113.18 L229.52 119.16 L229.87 122.92 L230.22 124.21 L230.57 123.02 L230.91 119.53 L231.26 113.98 L231.60 106.75 L231.95 98.33 L232.30 89.29 L232.64 80.25 L232.99 71.83 L233.33 64.60 L233.68 59.05 L234.02 55.56 L234.37 54.37 L234.72 55.59 L235.07 59.17 L235.42 64.85 L235.77 72.26 L236.12 80.89 L236.47 90.15 L236.82 99.41 L237.17 108.04 L237.52 115.44 L237.87 121.13 L238.22 124.70 L238.57 125.92 L238.91 124.69 L239.26 121.09 L239.60 115.36 L239.95 107.89 L240.29 99.20 L240.64 89.86 L240.98 80.53 L241.33 71.83 L241.67 64.36 L242.02 58.63 L242.36 55.03 L242.71 53.80 L243.06 55.01 L243.41 58.54 L243.76 64.15 L244.11 71.47 L244.46 80.00 L244.81 89.15 L245.16 98.29 L245.51 106.82 L245.86 114.14 L246.21 119.76 L246.56 123.29 L246.91 124.49 L247.25 123.24 L247.60 119.58 L247.94 113.75 L248.29 106.15 L248.63 97.30 L248.98 87.81 L249.32 78.32 L249.67 69.47 L250.01 61.87 L250.36 56.04 L250.70 52.38 L251.05 51.13 L251.40 52.33 L251.75 55.83 L252.10 61.41 L252.45 68.68 L252.80 77.15 L253.15 86.24 L253.50 95.32 L253.85 103.79 L254.20 111.06 L254.55 116.64 L254.90 120.15 L255.25 121.34 L255.60 120.06 L255.94 116.31 L256.29 110.33 L256.63 102.55 L256.98 93.48 L257.32 83.76 L257.67 74.03 L258.01 64.96 L258.36 57.18 L258.70 51.20 L259.05 47.45 L259.39 46.17 L259.74 47.40 L260.09 51.00 L260.44 56.73 L260.79 64.20 L261.14 72.90 L261.49 82.23 L261.84 91.56 L262.19 100.26 L262.54 107.73 L262.89 113.46 L263.24 117.06 L263.59 118.29 L263.94 117.03 L264.28 113.34 L264.63 107.48 L264.97 99.83 L265.32 90.93 L265.66 81.37 L266.01 71.82 L266.35 62.91 L266.70 55.27 L267.04 49.40 L267.39 45.71 L267.73 44.45 L268.08 45.78 L268.43 49.67 L268.78 55.85 L269.13 63.91 L269.48 73.30 L269.83 83.37 L270.18 93.45 L270.53 102.84 L270.88 110.90 L271.23 117.08 L271.58 120.97 L271.93 122.30 L272.28 121.14 L272.62 117.75 L272.97 112.35 L273.31 105.32 L273.66 97.13 L274.00 88.34 L274.35 79.55 L274.70 71.35 L275.04 64.32 L275.39 58.92 L275.73 55.53 L276.08 54.37 L276.43 55.69 L276.78 59.54 L277.13 65.66 L277.48 73.64 L277.83 82.94 L278.18 92.91 L278.53 102.89 L278.88 112.19 L279.23 120.17 L279.58 126.29 L279.93 130.14 L280.28 131.46 L280.62 130.17 L280.97 126.38 L281.31 120.36 L281.66 112.52 L282.00 103.39 L282.35 93.58 L282.69 83.78 L283.04 74.65 L283.38 66.80 L283.73 60.78 L284.07 57.00 L284.42 55.71 L284.77 56.88 L285.12 60.33 L285.47 65.81 L285.82 72.95 L286.17 81.27 L286.52 90.20 L286.87 99.12 L287.22 107.44 L287.57 114.58 L287.92 120.06 L288.27 123.51 L288.62 124.68 L288.96 123.35 L289.31 119.45 L289.65 113.24 L290.00 105.15 L290.34 95.73 L290.69 85.62 L291.03 75.51 L291.38 66.08 L291.72 57.99 L292.07 51.78 L292.41 47.88 L292.76 46.55 L293.11 47.81 L293.46 51.50 L293.81 57.38 L294.16 65.03 L294.51 73.95 L294.86 83.52 L295.21 93.09 L295.56 102.00 L295.91 109.66 L296.26 115.53 L296.61 119.23 L296.96 120.49 L297.31 119.21 L297.65 115.49 L298.00 109.56 L298.34 101.83 L298.69 92.84 L299.03 83.18 L299.38 73.53 L299.72 64.53 L300.07 56.81 L300.41 50.88 L300.76 47.15 L301.10 45.88 L301.45 47.18 L301.80 51.00 L302.15 57.07 L302.50 64.99 L302.85 74.20 L303.20 84.09 L303.55 93.98 L303.90 103.19 L304.25 111.11 L304.60 117.18 L304.95 121.00 L305.30 122.30 L305.65 121.03 L305.99 117.33 L306.34 111.43 L306.68 103.74 L307.03 94.79 L307.37 85.19 L307.72 75.58 L308.06 66.63 L308.41 58.95 L308.75 53.05 L309.10 49.34 L309.44 48.08 L309.79 49.37 L310.14 53.15 L310.49 59.17 L310.84 67.01 L311.19 76.15 L311.54 85.95 L311.89 95.75 L312.24 104.89 L312.59 112.73 L312.94 118.75 L313.29 122.53 L313.64 123.82 L313.99 122.56 L314.33 118.87 L314.68 113.00 L315.02 105.34 L315.37 96.42 L315.72 86.86 L316.06 77.29 L316.41 68.37 L316.75 60.72 L317.10 54.84 L317.44 51.15 L317.79 49.89 L318.14 51.21 L318.49 55.08 L318.84 61.25 L319.19 69.28 L319.54 78.63 L319.89 88.67 L320.24 98.71 L320.59 108.06 L320.94 116.09 L321.29 122.25 L321.64 126.13 L321.99 127.45 L322.33 126.18 L322.68 122.44 L323.02 116.50 L323.37 108.75 L323.71 99.73 L324.06 90.05 L324.40 80.37 L324.75 71.35 L325.09 63.61 L325.44 57.67 L325.78 53.93 L326.13 52.66 L326.48 53.93 L326.83 57.67 L327.18 63.61 L327.53 71.35 L327.88 80.37 L328.23 90.05 L328.58 99.73 L328.93 108.75 L329.28 116.50 L329.63 122.44 L329.98 126.18 L330.33 127.45 L330.67 126.11 L331.02 122.19 L331.36 115.95 L331.71 107.82 L332.05 98.35 L332.40 88.19 L332.74 78.03 L333.09 68.56 L333.43 60.43 L333.78 54.19 L334.12 50.27 L334.47 48.94 L334.82 50.15 L335.17 53.73 L335.52 59.41 L335.87 66.82 L336.22 75.45 L336.57 84.71 L336.92 93.97 L337.27 102.60 L337.62 110.01 L337.97 115.69 L338.32 119.27 L338.67 120.49 L339.02 119.17 L339.36 115.33 L339.71 109.21 L340.05 101.24 L340.40 91.95 L340.74 81.99 L341.09 72.03 L341.43 62.74 L341.78 54.77 L342.12 48.65 L342.47 44.81 L342.81 43.50 L343.16 44.82 L343.51 48.71 L343.86 54.90 L344.21 62.96 L344.56 72.35 L344.91 82.42 L345.26 92.49 L345.61 101.88 L345.96 109.94 L346.31 116.13 L346.66 120.02 L347.01 121.34 L347.36 120.15 L347.70 116.64 L348.05 111.06 L348.39 103.79 L348.74 95.32 L349.08 86.24 L349.43 77.15 L349.77 68.68 L350.12 61.41 L350.46 55.83 L350.81 52.33 L351.15 51.13 L351.50 52.43 L351.85 56.24 L352.20 62.31 L352.55 70.21 L352.90 79.41 L353.25 89.29 L353.60 99.17 L353.95 108.37 L354.30 116.27 L354.65 122.34 L355.00 126.15 L355.35 127.45 L355.70 126.16 L356.04 122.38 L356.39 116.36 L356.73 108.51 L357.08 99.38 L357.43 89.58 L357.77 79.77 L358.12 70.64 L358.46 62.79 L358.81 56.78 L359.15 52.99 L359.50 51.70 L359.85 52.94 L360.20 56.56 L360.55 62.32 L360.90 69.83 L361.25 78.57 L361.60 87.95 L361.95 97.34 L362.30 106.08 L362.65 113.59 L363.00 119.35 L363.35 122.97 L363.70 124.21 L364.04 122.89 L364.39 119.04 L364.73 112.92 L365.08 104.94 L365.42 95.64 L365.77 85.66 L366.11 75.69 L366.46 66.39 L366.80 58.41 L367.15 52.29 L367.49 48.44 L367.84 47.12 L368.19 48.39 L368.54 52.09 L368.89 57.99 L369.24 65.68 L369.59 74.63 L369.94 84.23 L370.29 93.84 L370.64 102.79 L370.99 110.47 L371.34 116.37 L371.69 120.08 L372.04 121.34 L372.38 120.10 L372.73 116.44 L373.07 110.61 L373.42 103.03 L373.76 94.19 L374.11 84.71 L374.45 75.23 L374.80 66.39 L375.14 58.81 L375.49 52.98 L375.83 49.33 L376.18 48.08 L376.53 49.38 L376.88 53.21 L377.23 59.30 L377.58 67.23 L377.93 76.47 L378.28 86.38 L378.63 96.29 L378.98 105.53 L379.33 113.46 L379.68 119.55 L380.03 123.38 L380.38 124.68 L380.73 123.44 L381.07 119.79 L381.42 114.00 L381.76 106.44 L382.11 97.64 L382.45 88.19 L382.80 78.75 L383.14 69.95 L383.49 62.39 L383.83 56.59 L384.18 52.95 L384.52 51.70 L384.87 52.92 L385.22 56.49 L385.57 62.18 L385.92 69.59 L386.27 78.22 L386.62 87.48 L386.97 96.74 L387.32 105.36 L387.67 112.77 L388.02 118.46 L388.37 122.03 L388.72 123.25 L389.07 121.96 L389.41 118.19 L389.76 112.19 L390.10 104.36 L390.45 95.25 L390.79 85.47 L391.14 75.70 L391.48 66.58 L391.83 58.76 L392.17 52.76 L392.52 48.98 L392.86 47.70 L393.21 48.95 L393.56 52.63 L393.91 58.48 L394.26 66.11 L394.61 74.99 L394.96 84.52 L395.31 94.05 L395.66 102.93 L396.01 110.56 L396.36 116.41 L396.71 120.09 L397.06 121.34 L397.41 120.13 L397.75 116.58 L398.10 110.92 L398.44 103.55 L398.79 94.97 L399.13 85.76 L399.48 76.55 L399.83 67.97 L400.17 60.60 L400.52 54.94 L400.86 51.39 L401.21 50.18 L401.56 51.40 L401.91 55.01 L402.26 60.74 L402.61 68.21 L402.96 76.90 L403.31 86.24 L403.66 95.57 L404.01 104.27 L404.36 111.74 L404.71 117.47 L405.06 121.07 L405.41 122.30 L405.75 121.03 L406.10 117.30 L406.44 111.37 L406.79 103.65 L407.13 94.65 L407.48 85.00 L407.82 75.34 L408.17 66.35 L408.51 58.62 L408.86 52.69 L409.20 48.97 L409.55 47.70 L409.90 48.92 L410.25 52.51 L410.60 58.23 L410.95 65.68 L411.30 74.35 L411.65 83.66 L412.00 92.97 L412.35 101.64 L412.70 109.09 L413.05 114.81 L413.40 118.40 L413.75 119.63 L414.09 118.43 L414.44 114.93 L414.78 109.36 L415.13 102.10 L415.47 93.64 L415.82 84.57 L416.16 75.49 L416.51 67.04 L416.85 59.78 L417.20 54.20 L417.54 50.70 L417.89 49.51 L418.24 50.75 L418.59 54.38 L418.94 60.17 L419.29 67.71 L419.64 76.48 L419.99 85.90 L420.34 95.32 L420.69 104.10 L421.04 111.64 L421.39 117.42 L421.74 121.06 L422.09 122.30 L422.44 121.10 L422.78 117.57 L423.13 111.96 L423.47 104.65 L423.82 96.14 L424.16 87.00 L424.51 77.86 L424.85 69.35 L425.20 62.04 L425.54 56.43 L425.89 52.90 L426.23 51.70 L426.58 53.00 L426.93 56.80 L427.28 62.85 L427.63 70.73 L427.98 79.91 L428.33 89.77 L428.68 99.62 L429.03 108.80 L429.38 116.68 L429.73 122.73 L430.08 126.53 L430.43 127.83 L430.78 126.60 L431.12 123.00 L431.47 117.27 L431.81 109.80 L432.16 101.10 L432.50 91.77 L432.85 82.44 L433.19 73.74 L433.54 66.27 L433.88 60.54 L434.23 56.94 L434.57 55.71 L434.92 56.83 L435.27 60.11 L435.62 65.32 L435.97 72.12 L436.32 80.03 L436.67 88.53 L437.02 97.02 L437.37 104.94 L437.72 111.73 L438.07 116.95 L438.42 120.23 L438.77 121.34 L439.12 120.06 L439.46 116.31 L439.81 110.33 L440.15 102.55 L440.50 93.48 L440.85 83.76 L441.19 74.03 L441.54 64.96 L441.88 57.18 L442.23 51.20 L442.57 47.45 L442.92 46.17 L443.27 47.40 L443.62 51.03 L443.97 56.79 L444.32 64.29 L444.67 73.04 L445.02 82.42 L445.37 91.80 L445.72 100.55 L446.07 108.05 L446.42 113.82 L446.77 117.44 L447.12 118.67 L447.46 117.48 L447.81 114.00 L448.15 108.46 L448.50 101.24 L448.84 92.83 L449.19 83.80 L449.53 74.78 L449.88 66.37 L450.22 59.15 L450.57 53.61 L450.91 50.12 L451.26 48.94 L451.61 50.15 L451.96 53.73 L452.31 59.41 L452.66 66.82 L453.01 75.45 L453.36 84.71 L453.71 93.97 L454.06 102.60 L454.41 110.01 L454.76 115.69 L455.11 119.27 L455.46 120.49 L455.80 119.34 L456.15 115.97 L456.49 110.62 L456.84 103.65 L457.18 95.53 L457.53 86.81 L457.87 78.09 L458.22 69.97 L458.56 63.00 L458.91 57.64 L459.25 54.28 L459.60 53.13 L459.95 54.37 L460.30 57.98 L460.65 63.74 L461.00 71.24 L461.35 79.97 L461.70 89.34 L462.05 98.71 L462.40 107.44 L462.75 114.94 L463.10 120.69 L463.45 124.31 L463.80 125.54 L464.15 124.34 L464.49 120.81 L464.84 115.20 L465.18 107.89 L465.53 99.38 L465.87 90.24 L466.22 81.11 L466.56 72.59 L466.91 65.28 L467.25 59.67 L467.60 56.15 L467.94 54.95 L468.29 56.09 L468.64 59.43 L468.99 64.75 L469.34 71.69 L469.69 79.76 L470.04 88.43 L470.39 97.10 L470.74 105.17 L471.09 112.11 L471.44 117.43 L471.79 120.78 L472.14 121.92 L472.49 120.74 L472.83 117.28 L473.18 111.77 L473.52 104.60 L473.87 96.25 L474.21 87.29 L474.56 78.32 L474.90 69.97 L475.25 62.80 L475.59 57.30 L475.94 53.84 L476.28 52.66 L476.63 53.84 L476.98 57.32 L477.33 62.85 L477.68 70.07 L478.03 78.46 L478.38 87.48 L478.73 96.49 L479.08 104.89 L479.43 112.10 L479.78 117.63 L480.13 121.11 L480.48 122.30 L480.83 121.09 L481.17 117.53 L481.52 111.88 L481.86 104.51 L482.21 95.92 L482.56 86.71 L482.90 77.50 L483.25 68.92 L483.59 61.55 L483.94 55.90 L484.28 52.34 L484.63 51.13 L484.98 52.23 L485.33 55.48 L485.68 60.63 L486.03 67.35 L486.38 75.17 L486.73 83.57 L487.08 91.96 L487.43 99.78 L487.78 106.50 L488.13 111.66 L488.48 114.90 L488.83 116.00 L489.17 114.84 L489.52 111.43 L489.86 106.00 L490.21 98.92 L490.55 90.69 L490.90 81.85 L491.24 73.01 L491.59 64.77 L491.93 57.70 L492.28 52.27 L492.62 48.86 L492.97 47.70 L493.32 48.95 L493.67 52.63 L494.02 58.48 L494.37 66.11 L494.72 74.99 L495.07 84.52 L495.42 94.05 L495.77 102.93 L496.12 110.56 L496.47 116.41 L496.82 120.09 L497.17 121.34 L497.51 120.20 L497.86 116.83 L498.20 111.48 L498.55 104.51 L498.89 96.38 L499.24 87.67 L499.58 78.95 L499.93 70.83 L500.27 63.86 L500.62 58.50 L500.96 55.14 L501.31 53.99 L501.66 55.20 L502.01 58.75 L502.36 64.40 L502.71 71.76 L503.06 80.33 L503.41 89.53 L503.76 98.73 L504.11 107.30 L504.46 114.66 L504.81 120.30 L505.16 123.85 L505.51 125.06 L505.86 123.89 L506.20 120.46 L506.55 114.99 L506.89 107.87 L507.24 99.57 L507.58 90.67 L507.93 81.77 L508.27 73.48 L508.62 66.35 L508.96 60.89 L509.31 57.45 L509.65 56.28 L510.00 57.44 L510.35 60.83 L510.70 66.23 L511.05 73.26 L511.40 81.45 L511.75 90.24 L512.10 99.03 L512.45 107.22 L512.80 114.26 L513.15 119.66 L513.50 123.05 L513.85 124.21 L514.20 122.94 L514.54 119.25 L514.89 113.36 L515.23 105.70 L515.58 96.77 L515.92 87.19 L516.27 77.61 L516.61 68.68 L516.96 61.02 L517.30 55.13 L517.65 51.44 L517.99 50.18 L518.34 51.30 L518.69 54.59 L519.04 59.82 L519.39 66.63 L519.74 74.57 L520.09 83.09 L520.44 91.61 L520.79 99.55 L521.14 106.36 L521.49 111.59 L521.84 114.88 L522.19 116.00 L522.54 114.81 L522.88 111.32 L523.23 105.77 L523.57 98.54 L523.92 90.12 L524.27 81.09 L524.61 72.05 L524.96 63.63 L525.30 56.40 L525.65 50.85 L525.99 47.36 L526.34 46.17 L526.69 47.44 L527.04 51.17 L527.39 57.11 L527.74 64.84 L528.09 73.85 L528.44 83.52 L528.79 93.18 L529.14 102.19 L529.49 109.93 L529.84 115.86 L530.19 119.59 L530.54 120.87 L530.88 119.67 L531.23 116.17 L531.57 110.60 L531.92 103.34 L532.26 94.88 L532.61 85.81 L532.95 76.73 L533.30 68.28 L533.64 61.02 L533.99 55.45 L534.33 51.94 L534.68 50.75 L535.03 52.02 L535.38 55.73 L535.73 61.65 L536.08 69.35 L536.43 78.32 L536.78 87.95 L537.13 97.58 L537.48 106.56 L537.83 114.26 L538.18 120.18 L538.53 123.89 L538.88 125.16 L539.22 123.95 L539.57 120.42 L539.91 114.79 L540.26 107.46 L540.60 98.93 L540.95 89.77 L541.29 80.61 L541.64 72.07 L541.98 64.74 L542.33 59.12 L542.67 55.58 L543.02 54.37" stroke="#ffffff" stroke-width="0.5"/>
<path d="M38.36 124.88 L38.70 123.54 L39.05 119.60 L39.39 113.33 L39.74 105.16 L40.08 95.64 L40.43 85.43 L40.77 75.22 L41.12 65.70 L41.46 57.53 L41.81 51.26 L42.15 47.32 L42.50 45.98 L42.85 47.36 L43.20 51.40 L43.55 57.83 L43.90 66.20 L44.25 75.96 L44.60 86.43 L44.95 96.90 L45.30 106.65 L45.65 115.03 L46.00 121.46 L46.35 125.50 L46.70 126.88 L47.05 125.52 L47.39 121.52 L47.74 115.17 L48.08 106.89 L48.43 97.25 L48.77 86.90 L49.12 76.56 L49.46 66.92 L49.81 58.64 L50.15 52.29 L50.50 48.29 L50.84 46.93 L51.19 48.31 L51.54 52.35 L51.89 58.78 L52.24 67.16 L52.59 76.91 L52.94 87.38 L53.29 97.85 L53.64 107.61 L53.99 115.98 L54.34 122.41 L54.69 126.45 L55.04 127.83 L55.39 126.44 L55.73 122.37 L56.08 115.90 L56.42 107.46 L56.77 97.64 L57.11 87.10 L57.46 76.55 L57.80 66.73 L58.15 58.29 L58.49 51.82 L58.84 47.75 L59.18 46.36 L59.53 47.78 L59.88 51.93 L60.23 58.54 L60.58 67.16 L60.93 77.19 L61.28 87.95 L61.63 98.72 L61.98 108.75 L62.33 117.37 L62.68 123.98 L63.03 128.13 L63.38 129.55 L63.73 128.14 L64.07 124.01 L64.42 117.45 L64.76 108.89 L65.11 98.93 L65.46 88.24 L65.80 77.55 L66.15 67.59 L66.49 59.03 L66.84 52.47 L67.18 48.34 L67.53 46.93 L67.88 48.30 L68.23 52.33 L68.58 58.72 L68.93 67.06 L69.28 76.77 L69.63 87.19 L69.98 97.61 L70.33 107.32 L70.68 115.66 L71.03 122.06 L71.38 126.08 L71.73 127.45 L72.07 125.99 L72.42 121.71 L72.76 114.90 L73.11 106.03 L73.45 95.70 L73.80 84.62 L74.14 73.53 L74.49 63.20 L74.83 54.33 L75.18 47.52 L75.52 43.24 L75.87 41.78 L76.22 43.19 L76.57 47.32 L76.92 53.89 L77.27 62.46 L77.62 72.43 L77.97 83.14 L78.32 93.84 L78.67 103.81 L79.02 112.38 L79.37 118.95 L79.72 123.08 L80.07 124.49 L80.41 123.15 L80.76 119.23 L81.10 112.99 L81.45 104.86 L81.79 95.40 L82.14 85.24 L82.48 75.07 L82.83 65.61 L83.17 57.48 L83.52 51.24 L83.86 47.32 L84.21 45.98 L84.56 47.40 L84.91 51.58 L85.26 58.22 L85.61 66.87 L85.96 76.95 L86.31 87.76 L86.66 98.58 L87.01 108.66 L87.36 117.31 L87.71 123.95 L88.06 128.12 L88.41 129.55 L88.76 128.14 L89.10 124.01 L89.45 117.45 L89.79 108.89 L90.14 98.93 L90.48 88.24 L90.83 77.55 L91.17 67.59 L91.52 59.03 L91.86 52.47 L92.21 48.34 L92.55 46.93 L92.90 48.33 L93.25 52.43 L93.60 58.95 L93.95 67.44 L94.30 77.34 L94.65 87.95 L95.00 98.57 L95.35 108.46 L95.70 116.96 L96.05 123.48 L96.40 127.58 L96.75 128.98 L97.10 127.58 L97.44 123.48 L97.79 116.96 L98.13 108.47 L98.48 98.57 L98.82 87.95 L99.17 77.34 L99.51 67.44 L99.86 58.95 L100.20 52.43 L100.55 48.33 L100.89 46.93 L101.24 48.28 L101.59 52.25 L101.94 58.56 L102.29 66.78 L102.64 76.35 L102.99 86.62 L103.34 96.89 L103.69 106.46 L104.04 114.68 L104.39 120.99 L104.74 124.95 L105.09 126.30 L105.44 124.93 L105.78 120.89 L106.13 114.46 L106.47 106.08 L106.82 96.32 L107.17 85.86 L107.51 75.39 L107.86 65.63 L108.20 57.25 L108.55 50.82 L108.89 46.78 L109.24 45.41 L109.59 46.80 L109.94 50.90 L110.29 57.42 L110.64 65.92 L110.99 75.81 L111.34 86.43 L111.69 97.04 L112.04 106.94 L112.39 115.43 L112.74 121.95 L113.09 126.05 L113.44 127.45 L113.78 126.08 L114.13 122.06 L114.47 115.66 L114.82 107.32 L115.16 97.61 L115.51 87.19 L115.85 76.77 L116.20 67.06 L116.54 58.72 L116.89 52.33 L117.23 48.30 L117.58 46.93 L117.93 48.26 L118.28 52.14 L118.63 58.32 L118.98 66.37 L119.33 75.75 L119.68 85.81 L120.03 95.87 L120.38 105.25 L120.73 113.30 L121.08 119.47 L121.43 123.36 L121.78 124.68 L122.12 123.37 L122.47 119.54 L122.81 113.44 L123.16 105.48 L123.50 96.22 L123.85 86.28 L124.19 76.35 L124.54 67.09 L124.88 59.13 L125.23 53.03 L125.57 49.19 L125.92 47.89 L126.27 49.17 L126.62 52.93 L126.97 58.92 L127.32 66.73 L127.67 75.82 L128.02 85.57 L128.37 95.32 L128.72 104.41 L129.07 112.21 L129.42 118.20 L129.77 121.97 L130.12 123.25 L130.47 122.00 L130.81 118.33 L131.16 112.49 L131.50 104.89 L131.85 96.03 L132.19 86.52 L132.54 77.02 L132.88 68.16 L133.23 60.55 L133.57 54.71 L133.92 51.05 L134.26 49.79 L134.61 51.08 L134.96 54.84 L135.31 60.82 L135.66 68.61 L136.01 77.69 L136.36 87.43 L136.71 97.17 L137.06 106.25 L137.41 114.04 L137.76 120.02 L138.11 123.78 L138.46 125.06 L138.81 123.74 L139.15 119.84 L139.50 113.65 L139.84 105.58 L140.19 96.18 L140.53 86.09 L140.88 76.01 L141.22 66.61 L141.57 58.54 L141.91 52.34 L142.26 48.45 L142.60 47.12 L142.95 48.40 L143.30 52.16 L143.65 58.13 L144.00 65.92 L144.35 74.98 L144.70 84.71 L145.05 94.44 L145.40 103.50 L145.75 111.29 L146.10 117.26 L146.45 121.02 L146.80 122.30 L147.15 121.02 L147.49 117.26 L147.84 111.29 L148.18 103.50 L148.53 94.44 L148.88 84.71 L149.22 74.98 L149.57 65.92 L149.91 58.13 L150.26 52.16 L150.60 48.40 L150.95 47.12 L151.30 48.44 L151.65 52.31 L152.00 58.45 L152.35 66.47 L152.70 75.80 L153.05 85.81 L153.40 95.82 L153.75 105.15 L154.10 113.16 L154.45 119.31 L154.80 123.17 L155.15 124.49 L155.49 123.24 L155.84 119.55 L156.18 113.69 L156.53 106.06 L156.87 97.16 L157.22 87.62 L157.56 78.08 L157.91 69.18 L158.25 61.55 L158.60 55.69 L158.94 52.00 L159.29 50.75 L159.64 52.02 L159.99 55.76 L160.34 61.70 L160.69 69.45 L161.04 78.47 L161.39 88.14 L161.74 97.82 L162.09 106.84 L162.44 114.59 L162.79 120.53 L163.14 124.27 L163.49 125.54 L163.83 124.26 L164.18 120.49 L164.52 114.50 L164.87 106.70 L165.21 97.61 L165.56 87.86 L165.90 78.11 L166.25 69.02 L166.59 61.21 L166.94 55.22 L167.28 51.46 L167.63 50.18 L167.98 51.37 L168.33 54.89 L168.68 60.47 L169.03 67.75 L169.38 76.23 L169.73 85.33 L170.08 94.43 L170.43 102.91 L170.78 110.19 L171.13 115.78 L171.48 119.29 L171.83 120.49 L172.18 119.26 L172.52 115.66 L172.87 109.94 L173.21 102.48 L173.56 93.79 L173.90 84.47 L174.25 75.15 L174.59 66.47 L174.94 59.01 L175.28 53.28 L175.63 49.69 L175.97 48.46 L176.32 49.70 L176.67 53.34 L177.02 59.13 L177.37 66.68 L177.72 75.47 L178.07 84.90 L178.42 94.33 L178.77 103.12 L179.12 110.67 L179.47 116.46 L179.82 120.10 L180.17 121.34 L180.52 120.12 L180.86 116.53 L181.21 110.82 L181.55 103.38 L181.90 94.72 L182.24 85.43 L182.59 76.13 L182.93 67.47 L183.28 60.03 L183.62 54.32 L183.97 50.73 L184.31 49.51 L184.66 50.72 L185.01 54.26 L185.36 59.90 L185.71 67.25 L186.06 75.81 L186.41 85.00 L186.76 94.18 L187.11 102.74 L187.46 110.09 L187.81 115.73 L188.16 119.28 L188.51 120.49 L188.86 119.30 L189.20 115.84 L189.55 110.33 L189.89 103.15 L190.24 94.78 L190.59 85.81 L190.93 76.83 L191.28 68.47 L191.62 61.29 L191.97 55.78 L192.31 52.31 L192.66 51.13 L193.01 52.34 L193.36 55.90 L193.71 61.55 L194.06 68.92 L194.41 77.50 L194.76 86.71 L195.11 95.92 L195.46 104.51 L195.81 111.88 L196.16 117.53 L196.51 121.09 L196.86 122.30 L197.20 121.16 L197.55 117.84 L197.89 112.55 L198.24 105.65 L198.58 97.62 L198.93 89.00 L199.27 80.39 L199.62 72.36 L199.96 65.46 L200.31 60.17 L200.65 56.84 L201.00 55.71 L201.35 56.88 L201.70 60.30 L202.05 65.74 L202.40 72.83 L202.75 81.09 L203.10 89.96 L203.45 98.82 L203.80 107.08 L204.15 114.17 L204.50 119.62 L204.85 123.04 L205.20 124.21 L205.54 123.02 L205.89 119.53 L206.23 113.98 L206.58 106.75 L206.92 98.33 L207.27 89.29 L207.61 80.25 L207.96 71.83 L208.30 64.60 L208.65 59.05 L208.99 55.56 L209.34 54.37 L209.69 55.48 L210.04 58.74 L210.39 63.93 L210.74 70.69 L211.09 78.56 L211.44 87.00 L211.79 95.44 L212.14 103.31 L212.49 110.07 L212.84 115.26 L213.19 118.52 L213.54 119.63 L213.89 118.37 L214.23 114.68 L214.58 108.81 L214.92 101.17 L215.27 92.26 L215.61 82.71 L215.96 73.15 L216.30 64.25 L216.65 56.60 L216.99 50.73 L217.34 47.05 L217.68 45.79 L218.03 46.94 L218.38 50.31 L218.73 55.66 L219.08 62.65 L219.43 70.78 L219.78 79.51 L220.13 88.24 L220.48 96.37 L220.83 103.36 L221.18 108.72 L221.53 112.09 L221.88 113.23 L222.23 112.14 L222.57 108.93 L222.92 103.82 L223.26 97.16 L223.61 89.41 L223.95 81.09 L224.30 72.76 L224.64 65.01 L224.99 58.35 L225.33 53.24 L225.68 50.03 L226.02 48.94 L226.37 50.22 L226.72 53.98 L227.07 59.96 L227.42 67.75 L227.77 76.83 L228.12 86.57 L228.47 96.31 L228.82 105.39 L229.17 113.18 L229.52 119.16 L229.87 122.92 L230.22 124.21 L230.57 123.02 L230.91 119.53 L231.26 113.98 L231.60 106.75 L231.95 98.33 L232.30 89.29 L232.64 80.25 L232.99 71.83 L233.33 64.60 L233.68 59.05 L234.02 55.56 L234.37 54.37 L234.72 55.59 L235.07 59.17 L235.42 64.85 L235.77 72.26 L236.12 80.89 L236.47 90.15 L236.82 99.41 L237.17 108.04 L237.52 115.44 L237.87 121.13 L238.22 124.70 L238.57 125.92 L238.91 124.69 L239.26 121.09 L239.60 115.36 L239.95 107.89 L240.29 99.20 L240.64 89.86 L240.98 80.53 L241.33 71.83 L241.67 64.36 L242.02 58.63 L242.36 55.03 L242.71 53.80 L243.06 55.01 L243.41 58.54 L243.76 64.15 L244.11 71.47 L244.46 80.00 L244.81 89.15 L245.16 98.29 L245.51 106.82 L245.86 114.14 L246.21 119.76 L246.56 123.29 L246.91 124.49 L247.25 123.24 L247.60 119.58 L247.94 113.75 L248.29 106.15 L248.63 97.30 L248.98 87.81 L249.32 78.32 L249.67 69.47 L250.01 61.87 L250.36 56.04 L250.70 52.38 L251.05 51.13 L251.40 52.33 L251.75 55.83 L252.10 61.41 L252.45 68.68 L252.80 77.15 L253.15 86.24 L253.50 95.32 L253.85 103.79 L254.20 111.06 L254.55 116.64 L254.90 120.15 L255.25 121.34 L255.60 120.06 L255.94 116.31 L256.29 110.33 L256.63 102.55 L256.98 93.48 L257.32 83.76 L257.67 74.03 L258.01 64.96 L258.36 57.18 L258.70 51.20 L259.05 47.45 L259.39 46.17 L259.74 47.40 L260.09 51.00 L260.44 56.73 L260.79 64.20 L261.14 72.90 L261.49 82.23 L261.84 91.56 L262.19 100.26 L262.54 107.73 L262.89 113.46 L263.24 117.06 L263.59 118.29 L263.94 117.03 L264.28 113.34 L264.63 107.48 L264.97 99.83 L265.32 90.93 L265.66 81.37 L266.01 71.82 L266.35 62.91 L266.70 55.27 L267.04 49.40 L267.39 45.71 L267.73 44.45 L268.08 45.78 L268.43 49.67 L268.78 55.85 L269.13 63.91 L269.48 73.30 L269.83 83.37 L270.18 93.45 L270.53 102.84 L270.88 110.90 L271.23 117.08 L271.58 120.97 L271.93 122.30 L272.28 121.14 L272.62 117.75 L272.97 112.35 L273.31 105.32 L273.66 97.13 L274.00 88.34 L274.35 79.55 L274.70 71.35 L275.04 64.32 L275.39 58.92 L275.73 55.53 L276.08 54.37 L276.43 55.69 L276.78 59.54 L277.13 65.66 L277.48 73.64 L277.83 82.94 L278.18 92.91 L278.53 102.89 L278.88 112.19 L279.23 120.17 L279.58 126.29 L279.93 130.14 L280.28 131.46 L280.62 130.17 L280.97 126.38 L281.31 120.36 L281.66 112.52 L282.00 103.39 L282.35 93.58 L282.69 83.78 L283.04 74.65 L283.38 66.80 L283.73 60.78 L284.07 57.00 L284.42 55.71 L284.77 56.88 L285.12 60.33 L285.47 65.81 L285.82 72.95 L286.17 81.27 L286.52 90.20 L286.87 99.12 L287.22 107.44 L287.57 114.58 L287.92 120.06 L288.27 123.51 L288.62 124.68 L288.96 123.35 L289.31 119.45 L289.65 113.24 L290.00 105.15 L290.34 95.73 L290.69 85.62 L291.03 75.51 L291.38 66.08 L291.72 57.99 L292.07 51.78 L292.41 47.88 L292.76 46.55 L293.11 47.81 L293.46 51.50 L293.81 57.38 L294.16 65.03 L294.51 73.95 L294.86 83.52 L295.21 93.09 L295.56 102.00 L295.91 109.66 L296.26 115.53 L296.61 119.23 L296.96 120.49 L297.31 119.21 L297.65 115.49 L298.00 109.56 L298.34 101.83 L298.69 92.84 L299.03 83.18 L299.38 73.53 L299.72 64.53 L300.07 56.81 L300.41 50.88 L300.76 47.15 L301.10 45.88 L301.45 47.18 L301.80 51.00 L302.15 57.07 L302.50 64.99 L302.85 74.20 L303.20 84.09 L303.55 93.98 L303.90 103.19 L304.25 111.11 L304.60 117.18 L304.95 121.00 L305.30 122.30 L305.65 121.03 L305.99 117.33 L306.34 111.43 L306.68 103.74 L307.03 94.79 L307.37 85.19 L307.72 75.58 L308.06 66.63 L308.41 58.95 L308.75 53.05 L309.10 49.34 L309.44 48.08 L309.79 49.37 L310.14 53.15 L310.49 59.17 L310.84 67.01 L311.19 76.15 L311.54 85.95 L311.89 95.75 L312.24 104.89 L312.59 112.73 L312.94 118.75 L313.29 122.53 L313.64 123.82 L313.99 122.56 L314.33 118.87 L314.68 113.00 L315.02 105.34 L315.37 96.42 L315.72 86.86 L316.06 77.29 L316.41 68.37 L316.75 60.72 L317.10 54.84 L317.44 51.15 L317.79 49.89 L318.14 51.21 L318.49 55.08 L318.84 61.25 L319.19 69.28 L319.54 78.63 L319.89 88.67 L320.24 98.71 L320.59 108.06 L320.94 116.09 L321.29 122.25 L321.64 126.13 L321.99 127.45 L322.33 126.18 L322.68 122.44 L323.02 116.50 L323.37 108.75 L323.71 99.73 L324.06 90.05 L324.40 80.37 L324.75 71.35 L325.09 63.61 L325.44 57.67 L325.78 53.93 L326.13 52.66 L326.48 53.93 L326.83 57.67 L327.18 63.61 L327.53 71.35 L327.88 80.37 L328.23 90.05 L328.58 99.73 L328.93 108.75 L329.28 116.50 L329.63 122.44 L329.98 126.18 L330.33 127.45 L330.67 126.11 L331.02 122.19 L331.36 115.95 L331.71 107.82 L332.05 98.35 L332.40 88.19 L332.74 78.03 L333.09 68.56 L333.43 60.43 L333.78 54.19 L334.12 50.27 L334.47 48.94 L334.82 50.15 L335.17 53.73 L335.52 59.41 L335.87 66.82 L336.22 75.45 L336.57 84.71 L336.92 93.97 L337.27 102.60 L337.62 110.01 L337.97 115.69 L338.32 119.27 L338.67 120.49 L339.02 119.17 L339.36 115.33 L339.71 109.21 L340.05 101.24 L340.40 91.95 L340.74 81.99 L341.09 72.03 L341.43 62.74 L341.78 54.77 L342.12 48.65 L342.47 44.81 L342.81 43.50 L343.16 44.82 L343.51 48.71 L343.86 54.90 L344.21 62.96 L344.56 72.35 L344.91 82.42 L345.26 92.49 L345.61 101.88 L345.96 109.94 L346.31 116.13 L346.66 120.02 L347.01 121.34 L347.36 120.15 L347.70 116.64 L348.05 111.06 L348.39 103.79 L348.74 95.32 L349.08 86.24 L349.43 77.15 L349.77 68.68 L350.12 61.41 L350.46 55.83 L350.81 52.33 L351.15 51.13 L351.50 52.43 L351.85 56.24 L352.20 62.31 L352.55 70.21 L352.90 79.41 L353.25 89.29 L353.60 99.17 L353.95 108.37 L354.30 116.27 L354.65 122.34 L355.00 126.15 L355.35 127.45 L355.70 126.16 L356.04 122.38 L356.39 116.36 L356.73 108.51 L357.08 99.38 L357.43 89.58 L357.77 79.77 L358.12 70.64 L358.46 62.79 L358.81 56.78 L359.15 52.99 L359.50 51.70 L359.85 52.94 L360.20 56.56 L360.55 62.32 L360.90 69.83 L361.25 78.57 L361.60 87.95 L361.95 97.34 L362.30 106.08 L362.65 113.59 L363.00 119.35 L363.35 122.97 L363.70 124.21 L364.04 122.89 L364.39 119.04 L364.73 112.92 L365.08 104.94 L365.42 95.64 L365.77 85.66 L366.11 75.69 L366.46 66.39 L366.80 58.41 L367.15 52.29 L367.49 48.44 L367.84 47.12 L368.19 48.39 L368.54 52.09 L368.89 57.99 L369.24 65.68 L369.59 74.63 L369.94 84.23 L370.29 93.84 L370.64 102.79 L370.99 110.47 L371.34 116.37 L371.69 120.08 L372.04 121.34 L372.38 120.10 L372.73 116.44 L373.07 110.61 L373.42 103.03 L373.76 94.19 L374.11 84.71 L374.45 75.23 L374.80 66.39 L375.14 58.81 L375.49 52.98 L375.83 49.33 L376.18 48.08 L376.53 49.38 L376.88 53.21 L377.23 59.30 L377.58 67.23 L377.93 76.47 L378.28 86.38 L378.63 96.29 L378.98 105.53 L379.33 113.46 L379.68 119.55 L380.03 123.38 L380.38 124.68 L380.73 123.44 L381.07 119.79 L381.42 114.00 L381.76 106.44 L382.11 97.64 L382.45 88.19 L382.80 78.75 L383.14 69.95 L383.49 62.39 L383.83 56.59 L384.18 52.95 L384.52 51.70 L384.87 52.92 L385.22 56.49 L385.57 62.18 L385.92 69.59 L386.27 78.22 L386.62 87.48 L386.97 96.74 L387.32 105.36 L387.67 112.77 L388.02 118.46 L388.37 122.03 L388.72 123.25 L389.07 121.96 L389.41 118.19 L389.76 112.19 L390.10 104.36 L390.45 95.25 L390.79 85.47 L391.14 75.70 L391.48 66.58 L391.83 58.76 L392.17 52.76 L392.52 48.98 L392.86 47.70 L393.21 48.95 L393.56 52.63 L393.91 58.48 L394.26 66.11 L394.61 74.99 L394.96 84.52 L395.31 94.05 L395.66 102.93 L396.01 110.56 L396.36 116.41 L396.71 120.09 L397.06 121.34 L397.41 120.13 L397.75 116.58 L398.10 110.92 L398.44 103.55 L398.79 94.97 L399.13 85.76 L399.48 76.55 L399.83 67.97 L400.17 60.60 L400.52 54.94 L400.86 51.39 L401.21 50.18 L401.56 51.40 L401.91 55.01 L402.26 60.74 L402.61 68.21 L402.96 76.90 L403.31 86.24 L403.66 95.57 L404.01 104.27 L404.36 111.74 L404.71 117.47 L405.06 121.07 L405.41 122.30 L405.75 121.03 L406.10 117.30 L406.44 111.37 L406.79 103.65 L407.13 94.65 L407.48 85.00 L407.82 75.34 L408.17 66.35 L408.51 58.62 L408.86 52.69 L409.20 48.97 L409.55 47.70 L409.90 48.92 L410.25 52.51 L410.60 58.23 L410.95 65.68 L411.30 74.35 L411.65 83.66 L412.00 92.97 L412.35 101.64 L412.70 109.09 L413.05 114.81 L413.40 118.40 L413.75 119.63 L414.09 118.43 L414.44 114.93 L414.78 109.36 L415.13 102.10 L415.47 93.64 L415.82 84.57 L416.16 75.49 L416.51 67.04 L416.85 59.78 L417.20 54.20 L417.54 50.70 L417.89 49.51 L418.24 50.75 L418.59 54.38 L418.94 60.17 L419.29 67.71 L419.64 76.48 L419.99 85.90 L420.34 95.32 L420.69 104.10 L421.04 111.64 L421.39 117.42 L421.74 121.06 L422.09 122.30 L422.44 121.10 L422.78 117.57 L423.13 111.96 L423.47 104.65 L423.82 96.14 L424.16 87.00 L424.51 77.86 L424.85 69.35 L425.20 62.04 L425.54 56.43 L425.89 52.90 L426.23 51.70 L426.58 53.00 L426.93 56.80 L427.28 62.85 L427.63 70.73 L427.98 79.91 L428.33 89.77 L428.68 99.62 L429.03 108.80 L429.38 116.68 L429.73 122.73 L430.08 126.53 L430.43 127.83 L430.78 126.60 L431.12 123.00 L431.47 117.27 L431.81 109.80 L432.16 101.10 L432.50 91.77 L432.85 82.44 L433.19 73.74 L433.54 66.27 L433.88 60.54 L434.23 56.94 L434.57 55.71 L434.92 56.83 L435.27 60.11 L435.62 65.32 L435.97 72.12 L436.32 80.03 L436.67 88.53 L437.02 97.02 L437.37 104.94 L437.72 111.73 L438.07 116.95 L438.42 120.23 L438.77 121.34 L439.12 120.06 L439.46 116.31 L439.81 110.33 L440.15 102.55 L440.50 93.48 L440.85 83.76 L441.19 74.03 L441.54 64.96 L441.88 57.18 L442.23 51.20 L442.57 47.45 L442.92 46.17 L443.27 47.40 L443.62 51.03 L443.97 56.79 L444.32 64.29 L444.67 73.04 L445.02 82.42 L445.37 91.80 L445.72 100.55 L446.07 108.05 L446.42 113.82 L446.77 117.44 L447.12 118.67 L447.46 117.48 L447.81 114.00 L448.15 108.46 L448.50 101.24 L448.84 92.83 L449.19 83.80 L449.53 74.78 L449.88 66.37 L450.22 59.15 L450.57 53.61 L450.91 50.12 L451.26 48.94 L451.61 50.15 L451.96 53.73 L452.31 59.41 L452.66 66.82 L453.01 75.45 L453.36 84.71 L453.71 93.97 L454.06 102.60 L454.41 110.01 L454.76 115.69 L455.11 119.27 L455.46 120.49 L455.80 119.34 L456.15 115.97 L456.49 110.62 L456.84 103.65 L457.18 95.53 L457.53 86.81 L457.87 78.09 L458.22 69.97 L458.56 63.00 L458.91 57.64 L459.25 54.28 L459.60 53.13 L459.95 54.37 L460.30 57.98 L460.65 63.74 L461.00 71.24 L461.35 79.97 L461.70 89.34 L462.05 98.71 L462.40 107.44 L462.75 114.94 L463.10 120.69 L463.45 124.31 L463.80 125.54 L464.15 124.34 L464.49 120.81 L464.84 115.20 L465.18 107.89 L465.53 99.38 L465.87 90.24 L466.22 81.11 L466.56 72.59 L466.91 65.28 L467.25 59.67 L467.60 56.15 L467.94 54.95 L468.29 56.09 L468.64 59.43 L468.99 64.75 L469.34 71.69 L469.69 79.76 L470.04 88.43 L470.39 97.10 L470.74 105.17 L471.09 112.11 L471.44 117.43 L471.79 120.78 L472.14 121.92 L472.49 120.74 L472.83 117.28 L473.18 111.77 L473.52 104.60 L473.87 96.25 L474.21 87.29 L474.56 78.32 L474.90 69.97 L475.25 62.80 L475.59 57.30 L475.94 53.84 L476.28 52.66 L476.63 53.84 L476.98 57.32 L477.33 62.85 L477.68 70.07 L478.03 78.46 L478.38 87.48 L478.73 96.49 L479.08 104.89 L479.43 112.10 L479.78 117.63 L480.13 121.11 L480.48 122.30 L480.83 121.09 L481.17 117.53 L481.52 111.88 L481.86 104.51 L482.21 95.92 L482.56 86.71 L482.90 77.50 L483.25 68.92 L483.59 61.55 L483.94 55.90 L484.28 52.34 L484.63 51.13 L484.98 52.23 L485.33 55.48 L485.68 60.63 L486.03 67.35 L486.38 75.17 L486.73 83.57 L487.08 91.96 L487.43 99.78 L487.78 106.50 L488.13 111.66 L488.48 114.90 L488.83 116.00 L489.17 114.84 L489.52 111.43 L489.86 106.00 L490.21 98.92 L490.55 90.69 L490.90 81.85 L491.24 73.01 L491.59 64.77 L491.93 57.70 L492.28 52.27 L492.62 48.86 L492.97 47.70 L493.32 48.95 L493.67 52.63 L494.02 58.48 L494.37 66.11 L494.72 74.99 L495.07 84.52 L495.42 94.05 L495.77 102.93 L496.12 110.56 L496.47 116.41 L496.82 120.09 L497.17 121.34 L497.51 120.20 L497.86 116.83 L498.20 111.48 L498.55 104.51 L498.89 96.38 L499.24 87.67 L499.58 78.95 L499.93 70.83 L500.27 63.86 L500.62 58.50 L500.96 55.14 L501.31 53.99 L501.66 55.20 L502.01 58.75 L502.36 64.40 L502.71 71.76 L503.06 80.33 L503.41 89.53 L503.76 98.73 L504.11 107.30 L504.46 114.66 L504.81 120.30 L505.16 123.85 L505.51 125.06 L505.86 123.89 L506.20 120.46 L506.55 114.99 L506.89 107.87 L507.24 99.57 L507.58 90.67 L507.93 81.77 L508.27 73.48 L508.62 66.35 L508.96 60.89 L509.31 57.45 L509.65 56.28 L510.00 57.44 L510.35 60.83 L510.70 66.23 L511.05 73.26 L511.40 81.45 L511.75 90.24 L512.10 99.03 L512.45 107.22 L512.80 114.26 L513.15 119.66 L513.50 123.05 L513.85 124.21 L514.20 122.94 L514.54 119.25 L514.89 113.36 L515.23 105.70 L515.58 96.77 L515.92 87.19 L516.27 77.61 L516.61 68.68 L516.96 61.02 L517.30 55.13 L517.65 51.44 L517.99 50.18 L518.34 51.30 L518.69 54.59 L519.04 59.82 L519.39 66.63 L519.74 74.57 L520.09 83.09 L520.44 91.61 L520.79 99.55 L521.14 106.36 L521.49 111.59 L521.84 114.88 L522.19 116.00 L522.54 114.81 L522.88 111.32 L523.23 105.77 L523.57 98.54 L523.92 90.12 L524.27 81.09 L524.61 72.05 L524.96 63.63 L525.30 56.40 L525.65 50.85 L525.99 47.36 L526.34 46.17 L526.69 47.44 L527.04 51.17 L527.39 57.11 L527.74 64.84 L528.09 73.85 L528.44 83.52 L528.79 93.18 L529.14 102.19 L529.49 109.93 L529.84 115.86 L530.19 119.59 L530.54 120.87 L530.88 119.67 L531.23 116.17 L531.57 110.60 L531.92 103.34 L532.26 94.88 L532.61 85.81 L532.95 76.73 L533.30 68.28 L533.64 61.02 L533.99 55.45 L534.33 51.94 L534.68 50.75 L535.03 52.02 L535.38 55.73 L535.73 61.65 L536.08 69.35 L536.43 78.32 L536.78 87.95 L537.13 97.58 L537.48 106.56 L537.83 114.26 L538.18 120.18 L538.53 123.89 L538.88 125.16 L539.22 123.95 L539.57 120.42 L539.91 114.79 L540.26 107.46 L540.60 98.93 L540.95 89.77 L541.29 80.61 L541.64 72.07 L541.98 64.74 L542.33 59.12 L542.67 55.58 L543.02 54.37" stroke="#f8051a" stroke-width="0.66"/>
</g></g>
<rect x="40.0" y="10.1" width="500.3" height="153.2" fill="none" stroke="#bababa" stroke-width="1.1"/>
<path d="M40.0 163.3 v-4.5 M40.0 10.1 v4.5 M90.0 163.3 v-4.5 M90.0 10.1 v4.5 M140.1 163.3 v-4.5 M140.1 10.1 v4.5 M190.1 163.3 v-4.5 M190.1 10.1 v4.5 M240.1 163.3 v-4.5 M240.1 10.1 v4.5 M290.1 163.3 v-4.5 M290.1 10.1 v4.5 M340.2 163.3 v-4.5 M340.2 10.1 v4.5 M390.2 163.3 v-4.5 M390.2 10.1 v4.5 M440.2 163.3 v-4.5 M440.2 10.1 v4.5 M490.3 163.3 v-4.5 M490.3 10.1 v4.5 M540.3 163.3 v-4.5 M540.3 10.1 v4.5 M40.0 10.10 h4.5 M540.3 10.10 h-4.5 M40.0 29.25 h4.5 M540.3 29.25 h-4.5 M40.0 48.40 h4.5 M540.3 48.40 h-4.5 M40.0 67.55 h4.5 M540.3 67.55 h-4.5 M40.0 86.70 h4.5 M540.3 86.70 h-4.5 M40.0 105.85 h4.5 M540.3 105.85 h-4.5 M40.0 125.00 h4.5 M540.3 125.00 h-4.5 M40.0 144.15 h4.5 M540.3 144.15 h-4.5 M40.0 163.30 h4.5 M540.3 163.30 h-4.5" stroke="#bababa" stroke-width="1" fill="none"/>
<g font-size="7.4" fill="#2a2a2a" stroke="#2a2a2a" stroke-width="0.15">
<text x="37.0" y="13.13" text-anchor="end">4000</text>
<text x="37.0" y="32.32" text-anchor="end">3000</text>
<text x="37.0" y="51.51" text-anchor="end">2000</text>
<text x="37.0" y="70.70" text-anchor="end">1000</text>
<text x="37.0" y="89.89" text-anchor="end">0</text>
<text x="37.0" y="109.08" text-anchor="end">-1000</text>
<text x="37.0" y="128.27" text-anchor="end">-2000</text>
<text x="37.0" y="147.46" text-anchor="end">-3000</text>
<text x="37.0" y="166.65" text-anchor="end">-4000</text>
<text x="40.0" y="173.7" text-anchor="middle">0</text>
<text x="90.0" y="173.7" text-anchor="middle">0.1</text>
<text x="140.0" y="173.7" text-anchor="middle">0.2</text>
<text x="190.0" y="173.7" text-anchor="middle">0.3</text>
<text x="240.0" y="173.7" text-anchor="middle">0.4</text>
<text x="290.0" y="173.7" text-anchor="middle">0.5</text>
<text x="340.0" y="173.7" text-anchor="middle">0.6</text>
<text x="390.0" y="173.7" text-anchor="middle">0.7</text>
<text x="440.0" y="173.7" text-anchor="middle">0.8</text>
<text x="490.0" y="173.7" text-anchor="middle">0.9</text>
<text x="540.0" y="173.7" text-anchor="middle">1</text>
<text x="290.5" y="185.8" text-anchor="middle" font-size="8.2">Time(sec)</text>
<text transform="translate(13.2 87) rotate(-90)" text-anchor="middle" font-size="8.2">Magnitude (A)</text>
</g>
<rect x="472" y="15.6" width="63.5" height="19.9" fill="#fff" stroke="#8c8c8c" stroke-width="0.9"/>
<path d="M474 20.7 H489.4" stroke="#2a2aee" stroke-width="0.8" stroke-opacity="0.85"/><path d="M474 30.4 H489.4" stroke="#f02a2a" stroke-width="0.8" stroke-opacity="0.85"/>
<g font-size="6.8" fill="#222" stroke="#222" stroke-width="0.15"><text x="491.6" y="23.3" textLength="27.9" lengthAdjust="spacingAndGlyphs">PQ Meter</text><text x="491.6" y="33" textLength="41.8" lengthAdjust="spacingAndGlyphs">Reconstructed</text></g>
<g font-family="'Liberation Serif', 'Times New Roman', serif" font-weight="bold" font-size="12" fill="#111"><text x="274.6" y="201.6" text-anchor="middle">(a)</text><text x="275" y="433.4" text-anchor="middle">(b)</text></g>
<rect x="38.2" y="209.5" width="196.9" height="188.7" fill="#4122ab"/>
<rect x="38.2" y="335.0" width="196.9" height="1.3" fill="url(#l60)" fill-opacity="0.9"/>
<g font-size="6.9" fill="#2a2a2a" stroke="#2a2a2a" stroke-width="0.15">
<text x="34.6" y="213.8" text-anchor="end">120</text>
<text x="34.6" y="234.5" text-anchor="end">110</text>
<text x="34.6" y="255.3" text-anchor="end">100</text>
<text x="34.6" y="276.0" text-anchor="end">90</text>
<text x="34.6" y="296.7" text-anchor="end">80</text>
<text x="34.6" y="317.4" text-anchor="end">70</text>
<text x="34.6" y="338.2" text-anchor="end">60</text>
<text x="34.6" y="358.9" text-anchor="end">50</text>
<text x="34.6" y="379.6" text-anchor="end">40</text>
<text x="37.9" y="408.8" text-anchor="middle">0</text>
<text x="77.2" y="408.8" text-anchor="middle">0.2</text>
<text x="116.6" y="408.8" text-anchor="middle">0.4</text>
<text x="156.0" y="408.8" text-anchor="middle">0.6</text>
<text x="195.3" y="408.8" text-anchor="middle">0.8</text>
<text x="234.7" y="408.8" text-anchor="middle">1</text>
<text x="136.7" y="419.6" text-anchor="middle" font-size="7.7">Time (s)</text>
<text transform="translate(18.7 303.4) rotate(-90)" text-anchor="middle" font-size="8" textLength="55.6" lengthAdjust="spacingAndGlyphs">Frequency (Hz)</text>
</g>
<rect x="245.9" y="209.5" width="11.1" height="188.7" fill="url(#par)" stroke="#555" stroke-opacity="0.45" stroke-width="0.6"/>
<g font-size="6.0" fill="#2a2a2a">
<text x="259.8" y="400.3">0</text>
<text x="259.8" y="380.7">200</text>
<text x="259.8" y="361.1">400</text>
<text x="259.8" y="341.5">600</text>
<text x="259.8" y="321.9">800</text>
<text x="259.8" y="302.3">1000</text>
<text x="259.8" y="282.7">1200</text>
<text x="259.8" y="263.1">1400</text>
<text x="259.8" y="243.5">1600</text>
<text x="259.8" y="223.9">1800</text>
</g>
<rect x="302.0" y="212.0" width="204.2" height="181.8" fill="url(#rbg)"/>
<g font-size="7.0" fill="#2a2a2a" stroke="#2a2a2a" stroke-width="0.15">
<text transform="translate(298.8 222.0) scale(1 1.20)" text-anchor="end">600</text>
<text transform="translate(298.8 254.6) scale(1 1.20)" text-anchor="end">500</text>
<text transform="translate(298.8 287.1) scale(1 1.20)" text-anchor="end">400</text>
<text transform="translate(298.8 319.7) scale(1 1.20)" text-anchor="end">300</text>
<text transform="translate(298.8 352.2) scale(1 1.20)" text-anchor="end">200</text>
<text transform="translate(298.8 384.8) scale(1 1.20)" text-anchor="end">100</text>
<text transform="translate(302.2 406.9) scale(1 1.20)" text-anchor="middle" font-size="7.1">0</text>
<text transform="translate(342.9 406.9) scale(1 1.20)" text-anchor="middle" font-size="7.1">0.2</text>
<text transform="translate(383.7 406.9) scale(1 1.20)" text-anchor="middle" font-size="7.1">0.4</text>
<text transform="translate(424.4 406.9) scale(1 1.20)" text-anchor="middle" font-size="7.1">0.6</text>
<text transform="translate(465.2 406.9) scale(1 1.20)" text-anchor="middle" font-size="7.1">0.8</text>
<text transform="translate(505.9 406.9) scale(1 1.20)" text-anchor="middle" font-size="7.1">1</text>
<text transform="translate(404.8 420.1) scale(1 1.20)" text-anchor="middle" font-size="8.05">Time (s)</text>
<text transform="translate(281.2 304.4) rotate(-90)" text-anchor="middle" font-size="7.7" textLength="57.4" lengthAdjust="spacingAndGlyphs">Frequency (Hz)</text>
</g>
<rect x="515.6" y="212.0" width="8.9" height="182.7" fill="url(#par)" stroke="#555" stroke-opacity="0.45" stroke-width="0.6"/>
<g font-size="5.4" fill="#2a2a2a">
<text transform="translate(527 223.2) scale(1 1.2)">150</text>
<text transform="translate(527 281.1) scale(1 1.2)">100</text>
<text transform="translate(527 339.7) scale(1 1.2)">50</text>
<text transform="translate(527 397.7) scale(1 1.2)">0</text>
</g>
<g><path d="M302.00 315.89 L307.11 316.07 L312.21 316.15 L317.31 316.12 L322.42 316.00 L327.52 315.80 L332.63 315.58 L337.74 315.37 L342.84 315.20 L347.94 315.11 L353.05 315.11 L358.15 315.20 L363.26 315.36 L368.37 315.57 L373.47 315.78 L378.57 315.96 L383.68 316.07 L388.78 316.09 L393.89 316.00 L399.00 315.80 L404.10 315.52 L409.20 315.19 L414.31 314.84 L419.41 314.53 L424.52 314.29 L429.62 314.15 L434.73 314.13 L439.83 314.23 L444.94 314.43 L450.04 314.70 L455.15 315.00 L460.25 315.30 L465.36 315.55 L470.46 315.71 L475.57 315.79 L480.68 315.76 L485.78 315.65 L490.88 315.48 L495.99 315.29 L501.09 315.12 L506.20 315.00" fill="none" stroke="#4d74f2" stroke-opacity="0.6" stroke-width="0.85"/><path d="M390 278.3 Q416 272.8 438 277.6" fill="none" stroke="#4a6af0" stroke-opacity="0.42" stroke-width="0.9"/><path d="M448 272.5 Q463 273.5 480 276" fill="none" stroke="#4a6af0" stroke-opacity="0.35" stroke-width="0.9"/><rect x="315.0" y="235.60" width="22.0" height="0.90" fill="#4f6cf5" fill-opacity="0.13"/><rect x="321.0" y="254.60" width="16.0" height="0.90" fill="#4f6cf5" fill-opacity="0.15"/><rect x="340.0" y="234.00" width="12.0" height="0.90" fill="#4f6cf5" fill-opacity="0.08"/><rect x="330.0" y="285.50" width="50.0" height="0.90" fill="#4f6cf5" fill-opacity="0.10"/><rect x="436.0" y="287.50" width="46.0" height="0.90" fill="#4f6cf5" fill-opacity="0.12"/><rect x="345.0" y="267.00" width="27.0" height="0.90" fill="#4f6cf5" fill-opacity="0.07"/><rect x="304.0" y="290.60" width="26.0" height="0.90" fill="#4f6cf5" fill-opacity="0.09"/><rect x="385.0" y="240.00" width="15.0" height="0.90" fill="#4f6cf5" fill-opacity="0.07"/><rect x="470.0" y="252.00" width="20.0" height="0.90" fill="#4f6cf5" fill-opacity="0.07"/><rect x="467.1" y="322.00" width="39.1" height="0.70" fill="#4f6cf5" fill-opacity="0.03"/><rect x="445.1" y="322.00" width="28.5" height="0.70" fill="#4f6cf5" fill-opacity="0.08"/><rect x="460.5" y="322.00" width="39.3" height="0.70" fill="#4f6cf5" fill-opacity="0.03"/><rect x="317.8" y="323.55" width="58.2" height="0.70" fill="#4f6cf5" fill-opacity="0.10"/><rect x="323.6" y="323.55" width="40.1" height="0.70" fill="#4f6cf5" fill-opacity="0.08"/><rect x="404.0" y="325.90" width="24.5" height="0.70" fill="#4f6cf5" fill-opacity="0.05"/><rect x="399.0" y="325.90" width="32.0" height="0.70" fill="#4f6cf5" fill-opacity="0.07"/><rect x="396.2" y="325.90" width="71.4" height="0.70" fill="#4f6cf5" fill-opacity="0.08"/><rect x="420.8" y="325.90" width="29.3" height="0.70" fill="#4f6cf5" fill-opacity="0.08"/><rect x="397.4" y="327.08" width="25.7" height="0.70" fill="#4f6cf5" fill-opacity="0.03"/><rect x="337.9" y="327.08" width="81.2" height="0.70" fill="#4f6cf5" fill-opacity="0.07"/><rect x="462.9" y="328.45" width="43.3" height="0.70" fill="#4f6cf5" fill-opacity="0.06"/><rect x="333.3" y="328.45" width="90.2" height="0.70" fill="#4f6cf5" fill-opacity="0.04"/><rect x="354.3" y="328.45" width="64.6" height="0.70" fill="#4f6cf5" fill-opacity="0.06"/><rect x="380.2" y="328.45" width="74.8" height="0.70" fill="#4f6cf5" fill-opacity="0.04"/><rect x="433.9" y="330.08" width="33.7" height="0.70" fill="#4f6cf5" fill-opacity="0.08"/><rect x="308.8" y="330.08" width="80.1" height="0.70" fill="#4f6cf5" fill-opacity="0.11"/><rect x="361.2" y="331.79" width="51.5" height="0.70" fill="#4f6cf5" fill-opacity="0.09"/><rect x="440.8" y="331.79" width="26.2" height="0.70" fill="#4f6cf5" fill-opacity="0.04"/><rect x="349.0" y="331.79" width="82.7" height="0.70" fill="#4f6cf5" fill-opacity="0.04"/><rect x="414.7" y="333.70" width="91.5" height="0.70" fill="#4f6cf5" fill-opacity="0.13"/><rect x="351.6" y="333.70" width="54.7" height="0.70" fill="#4f6cf5" fill-opacity="0.11"/><rect x="305.9" y="333.70" width="61.6" height="0.70" fill="#4f6cf5" fill-opacity="0.05"/><rect x="340.0" y="334.76" width="45.9" height="0.70" fill="#4f6cf5" fill-opacity="0.12"/><rect x="371.3" y="334.76" width="102.5" height="0.70" fill="#4f6cf5" fill-opacity="0.09"/><rect x="397.7" y="335.88" width="99.5" height="0.70" fill="#4f6cf5" fill-opacity="0.13"/><rect x="452.5" y="335.88" width="45.1" height="0.70" fill="#4f6cf5" fill-opacity="0.08"/><rect x="364.5" y="335.88" width="99.6" height="0.70" fill="#4f6cf5" fill-opacity="0.15"/><rect x="328.4" y="336.98" width="79.3" height="0.70" fill="#4f6cf5" fill-opacity="0.04"/><rect x="446.8" y="336.98" width="36.4" height="0.70" fill="#4f6cf5" fill-opacity="0.07"/><rect x="366.3" y="338.07" width="71.0" height="0.70" fill="#4f6cf5" fill-opacity="0.16"/><rect x="422.3" y="338.07" width="66.4" height="0.70" fill="#4f6cf5" fill-opacity="0.11"/><rect x="419.8" y="338.07" width="24.9" height="0.70" fill="#4f6cf5" fill-opacity="0.15"/><rect x="437.9" y="338.07" width="68.3" height="0.70" fill="#4f6cf5" fill-opacity="0.14"/><rect x="370.7" y="339.47" width="63.3" height="0.70" fill="#4f6cf5" fill-opacity="0.09"/><rect x="335.2" y="339.47" width="108.6" height="0.70" fill="#4f6cf5" fill-opacity="0.09"/><rect x="321.1" y="339.47" width="74.1" height="0.70" fill="#4f6cf5" fill-opacity="0.05"/><rect x="319.7" y="341.07" width="52.7" height="0.70" fill="#4f6cf5" fill-opacity="0.04"/><rect x="454.3" y="341.07" width="51.9" height="0.70" fill="#4f6cf5" fill-opacity="0.06"/><rect x="345.9" y="341.07" width="51.3" height="0.70" fill="#4f6cf5" fill-opacity="0.09"/><rect x="323.4" y="341.07" width="96.4" height="0.70" fill="#4f6cf5" fill-opacity="0.17"/><rect x="356.3" y="342.54" width="33.0" height="0.70" fill="#4f6cf5" fill-opacity="0.14"/><rect x="431.0" y="342.54" width="63.1" height="0.70" fill="#4f6cf5" fill-opacity="0.13"/><rect x="391.9" y="342.54" width="38.5" height="0.70" fill="#4f6cf5" fill-opacity="0.17"/><rect x="396.6" y="343.87" width="22.4" height="0.70" fill="#4f6cf5" fill-opacity="0.11"/><rect x="472.5" y="343.87" width="33.7" height="0.70" fill="#4f6cf5" fill-opacity="0.14"/><rect x="347.5" y="343.87" width="53.0" height="0.70" fill="#4f6cf5" fill-opacity="0.06"/><rect x="436.5" y="343.87" width="67.9" height="0.70" fill="#4f6cf5" fill-opacity="0.15"/><rect x="408.8" y="345.15" width="91.0" height="0.70" fill="#4f6cf5" fill-opacity="0.15"/><rect x="336.0" y="345.15" width="41.5" height="0.70" fill="#4f6cf5" fill-opacity="0.10"/><rect x="392.2" y="346.97" width="52.0" height="0.70" fill="#4f6cf5" fill-opacity="0.04"/><rect x="306.9" y="346.97" width="45.1" height="0.70" fill="#4f6cf5" fill-opacity="0.08"/><rect x="379.9" y="348.64" width="104.3" height="0.70" fill="#4f6cf5" fill-opacity="0.19"/><rect x="468.4" y="348.64" width="37.8" height="0.70" fill="#4f6cf5" fill-opacity="0.07"/><rect x="341.5" y="348.64" width="37.7" height="0.70" fill="#4f6cf5" fill-opacity="0.07"/><rect x="448.4" y="350.21" width="57.8" height="0.70" fill="#4f6cf5" fill-opacity="0.14"/><rect x="441.3" y="350.21" width="27.6" height="0.70" fill="#4f6cf5" fill-opacity="0.14"/><rect x="460.5" y="350.21" width="45.7" height="0.70" fill="#4f6cf5" fill-opacity="0.16"/><rect x="385.3" y="350.21" width="36.1" height="0.70" fill="#4f6cf5" fill-opacity="0.16"/><rect x="371.0" y="351.46" width="56.1" height="0.70" fill="#4f6cf5" fill-opacity="0.19"/><rect x="428.3" y="351.46" width="35.3" height="0.70" fill="#4f6cf5" fill-opacity="0.06"/><rect x="328.3" y="351.46" width="101.4" height="0.70" fill="#4f6cf5" fill-opacity="0.17"/><rect x="327.5" y="351.46" width="94.4" height="0.70" fill="#4f6cf5" fill-opacity="0.20"/><rect x="329.2" y="353.03" width="69.3" height="0.70" fill="#4f6cf5" fill-opacity="0.05"/><rect x="441.2" y="353.03" width="65.0" height="0.70" fill="#4f6cf5" fill-opacity="0.06"/><rect x="432.6" y="353.03" width="32.5" height="0.70" fill="#4f6cf5" fill-opacity="0.20"/><rect x="306.9" y="354.13" width="39.2" height="0.70" fill="#4f6cf5" fill-opacity="0.13"/><rect x="435.0" y="354.13" width="49.3" height="0.70" fill="#4f6cf5" fill-opacity="0.13"/><rect x="460.5" y="355.84" width="45.7" height="0.70" fill="#4f6cf5" fill-opacity="0.12"/><rect x="403.6" y="355.84" width="101.4" height="0.70" fill="#4f6cf5" fill-opacity="0.12"/><rect x="324.8" y="357.61" width="33.7" height="0.70" fill="#4f6cf5" fill-opacity="0.13"/><rect x="454.0" y="357.61" width="52.2" height="0.70" fill="#4f6cf5" fill-opacity="0.15"/><rect x="437.2" y="357.61" width="33.5" height="0.70" fill="#4f6cf5" fill-opacity="0.07"/><rect x="409.8" y="357.61" width="30.8" height="0.70" fill="#4f6cf5" fill-opacity="0.06"/><rect x="398.8" y="359.14" width="90.6" height="0.70" fill="#4f6cf5" fill-opacity="0.07"/><rect x="399.6" y="359.14" width="42.4" height="0.70" fill="#4f6cf5" fill-opacity="0.10"/><rect x="436.5" y="359.14" width="65.7" height="0.70" fill="#4f6cf5" fill-opacity="0.15"/><rect x="434.4" y="359.14" width="71.8" height="0.70" fill="#4f6cf5" fill-opacity="0.13"/><rect x="407.6" y="360.58" width="37.9" height="0.70" fill="#4f6cf5" fill-opacity="0.10"/><rect x="390.5" y="360.58" width="92.7" height="0.70" fill="#4f6cf5" fill-opacity="0.14"/><rect x="345.1" y="360.58" width="67.1" height="0.70" fill="#4f6cf5" fill-opacity="0.20"/><rect x="463.6" y="360.58" width="42.6" height="0.70" fill="#4f6cf5" fill-opacity="0.21"/><rect x="325.9" y="361.65" width="30.9" height="0.70" fill="#4f6cf5" fill-opacity="0.13"/><rect x="314.6" y="361.65" width="41.7" height="0.70" fill="#4f6cf5" fill-opacity="0.06"/><rect x="418.6" y="361.65" width="87.6" height="0.70" fill="#4f6cf5" fill-opacity="0.21"/><rect x="414.1" y="362.68" width="53.0" height="0.70" fill="#4f6cf5" fill-opacity="0.10"/><rect x="325.9" y="362.68" width="62.1" height="0.70" fill="#4f6cf5" fill-opacity="0.19"/><rect x="318.4" y="362.68" width="99.6" height="0.70" fill="#4f6cf5" fill-opacity="0.08"/><rect x="418.3" y="362.68" width="40.1" height="0.70" fill="#4f6cf5" fill-opacity="0.18"/><rect x="361.1" y="364.40" width="37.6" height="0.70" fill="#4f6cf5" fill-opacity="0.11"/><rect x="427.8" y="364.40" width="21.8" height="0.70" fill="#4f6cf5" fill-opacity="0.15"/><rect x="378.7" y="364.40" width="21.6" height="0.70" fill="#4f6cf5" fill-opacity="0.11"/><rect x="469.4" y="365.80" width="30.2" height="0.70" fill="#4f6cf5" fill-opacity="0.23"/><rect x="341.8" y="365.80" width="98.9" height="0.70" fill="#4f6cf5" fill-opacity="0.07"/><rect x="349.4" y="365.80" width="101.5" height="0.70" fill="#4f6cf5" fill-opacity="0.09"/><rect x="433.7" y="365.80" width="72.5" height="0.70" fill="#4f6cf5" fill-opacity="0.21"/><rect x="372.7" y="367.22" width="68.3" height="0.70" fill="#4f6cf5" fill-opacity="0.15"/><rect x="388.2" y="367.22" width="49.4" height="0.70" fill="#4f6cf5" fill-opacity="0.11"/><rect x="441.3" y="367.22" width="36.5" height="0.70" fill="#4f6cf5" fill-opacity="0.23"/><rect x="412.5" y="368.31" width="92.1" height="0.70" fill="#4f6cf5" fill-opacity="0.07"/><rect x="451.2" y="368.31" width="26.0" height="0.70" fill="#4f6cf5" fill-opacity="0.22"/><rect x="475.2" y="369.54" width="31.0" height="0.70" fill="#4f6cf5" fill-opacity="0.24"/><rect x="410.3" y="369.54" width="23.9" height="0.70" fill="#4f6cf5" fill-opacity="0.19"/><rect x="465.4" y="369.54" width="40.8" height="0.70" fill="#4f6cf5" fill-opacity="0.11"/><rect x="411.5" y="370.57" width="67.8" height="0.70" fill="#4f6cf5" fill-opacity="0.10"/><rect x="379.6" y="370.57" width="80.5" height="0.70" fill="#4f6cf5" fill-opacity="0.11"/><rect x="442.0" y="370.57" width="64.2" height="0.70" fill="#4f6cf5" fill-opacity="0.06"/><rect x="398.0" y="371.48" width="37.1" height="0.70" fill="#4f6cf5" fill-opacity="0.15"/><rect x="464.8" y="371.48" width="29.6" height="0.70" fill="#4f6cf5" fill-opacity="0.22"/><rect x="377.3" y="371.48" width="64.6" height="0.70" fill="#4f6cf5" fill-opacity="0.22"/><rect x="370.5" y="371.48" width="65.6" height="0.70" fill="#4f6cf5" fill-opacity="0.19"/><rect x="336.6" y="373.03" width="99.4" height="0.70" fill="#4f6cf5" fill-opacity="0.21"/><rect x="326.3" y="373.03" width="109.0" height="0.70" fill="#4f6cf5" fill-opacity="0.26"/><rect x="447.8" y="373.03" width="21.3" height="0.70" fill="#4f6cf5" fill-opacity="0.19"/><rect x="330.4" y="374.49" width="27.6" height="0.70" fill="#4f6cf5" fill-opacity="0.23"/><rect x="453.6" y="374.49" width="52.6" height="0.70" fill="#4f6cf5" fill-opacity="0.12"/><rect x="344.2" y="374.49" width="46.4" height="0.70" fill="#4f6cf5" fill-opacity="0.15"/><rect x="302.6" y="375.49" width="52.8" height="0.70" fill="#4f6cf5" fill-opacity="0.13"/><rect x="473.6" y="375.49" width="32.6" height="0.70" fill="#4f6cf5" fill-opacity="0.07"/><rect x="455.7" y="375.49" width="39.6" height="0.70" fill="#4f6cf5" fill-opacity="0.10"/><rect x="384.7" y="376.59" width="65.2" height="0.70" fill="#4f6cf5" fill-opacity="0.10"/><rect x="389.9" y="376.59" width="20.4" height="0.70" fill="#4f6cf5" fill-opacity="0.12"/><rect x="404.2" y="377.54" width="55.5" height="0.70" fill="#4f6cf5" fill-opacity="0.12"/><rect x="411.7" y="377.54" width="27.6" height="0.70" fill="#4f6cf5" fill-opacity="0.27"/><rect x="450.6" y="377.54" width="34.0" height="0.70" fill="#4f6cf5" fill-opacity="0.25"/><rect x="369.9" y="378.87" width="49.4" height="0.70" fill="#4f6cf5" fill-opacity="0.28"/><rect x="328.0" y="378.87" width="85.2" height="0.70" fill="#4f6cf5" fill-opacity="0.20"/><rect x="309.6" y="378.87" width="95.2" height="0.70" fill="#4f6cf5" fill-opacity="0.26"/><rect x="411.3" y="378.87" width="86.0" height="0.70" fill="#4f6cf5" fill-opacity="0.24"/><rect x="433.1" y="379.85" width="71.2" height="0.70" fill="#4f6cf5" fill-opacity="0.24"/><rect x="304.8" y="379.85" width="81.8" height="0.70" fill="#4f6cf5" fill-opacity="0.24"/><rect x="425.9" y="379.85" width="80.3" height="0.70" fill="#4f6cf5" fill-opacity="0.20"/><rect x="316.8" y="379.85" width="23.8" height="0.70" fill="#4f6cf5" fill-opacity="0.20"/><rect x="447.6" y="381.24" width="58.6" height="0.70" fill="#4f6cf5" fill-opacity="0.20"/><rect x="411.1" y="381.24" width="81.3" height="0.70" fill="#4f6cf5" fill-opacity="0.17"/><rect x="302.6" y="381.24" width="91.8" height="0.70" fill="#4f6cf5" fill-opacity="0.23"/><rect x="318.0" y="382.38" width="67.3" height="0.70" fill="#4f6cf5" fill-opacity="0.23"/><rect x="384.5" y="382.38" width="92.8" height="0.70" fill="#4f6cf5" fill-opacity="0.25"/><rect x="342.9" y="382.38" width="88.1" height="0.70" fill="#4f6cf5" fill-opacity="0.12"/><rect x="415.2" y="382.38" width="61.4" height="0.70" fill="#4f6cf5" fill-opacity="0.25"/><rect x="352.1" y="383.32" width="24.2" height="0.70" fill="#4f6cf5" fill-opacity="0.21"/><rect x="336.5" y="383.32" width="74.0" height="0.70" fill="#4f6cf5" fill-opacity="0.14"/><rect x="415.5" y="383.32" width="82.4" height="0.70" fill="#4f6cf5" fill-opacity="0.21"/><rect x="325.2" y="383.32" width="63.4" height="0.70" fill="#4f6cf5" fill-opacity="0.17"/><rect x="422.6" y="384.66" width="80.8" height="0.70" fill="#4f6cf5" fill-opacity="0.13"/><rect x="392.0" y="384.66" width="61.8" height="0.70" fill="#4f6cf5" fill-opacity="0.17"/><rect x="336.7" y="385.61" width="108.0" height="0.70" fill="#4f6cf5" fill-opacity="0.28"/><rect x="305.0" y="385.61" width="61.3" height="0.70" fill="#4f6cf5" fill-opacity="0.26"/><rect x="470.6" y="385.61" width="35.6" height="0.70" fill="#4f6cf5" fill-opacity="0.13"/><rect x="338.6" y="385.61" width="105.1" height="0.70" fill="#4f6cf5" fill-opacity="0.11"/><rect x="432.2" y="386.75" width="43.6" height="0.70" fill="#4f6cf5" fill-opacity="0.15"/><rect x="407.1" y="386.75" width="76.9" height="0.70" fill="#4f6cf5" fill-opacity="0.13"/><rect x="342.3" y="387.69" width="100.8" height="0.70" fill="#4f6cf5" fill-opacity="0.18"/><rect x="306.3" y="387.69" width="20.3" height="0.70" fill="#4f6cf5" fill-opacity="0.18"/><rect x="380.5" y="387.69" width="47.2" height="0.70" fill="#4f6cf5" fill-opacity="0.10"/><rect x="323.1" y="388.72" width="49.8" height="0.70" fill="#4f6cf5" fill-opacity="0.14"/><rect x="360.9" y="388.72" width="55.8" height="0.70" fill="#4f6cf5" fill-opacity="0.29"/><rect x="336.1" y="388.72" width="21.1" height="0.70" fill="#4f6cf5" fill-opacity="0.24"/><rect x="370.4" y="389.71" width="109.9" height="0.70" fill="#4f6cf5" fill-opacity="0.21"/><rect x="364.8" y="389.71" width="58.5" height="0.70" fill="#4f6cf5" fill-opacity="0.13"/><rect x="311.0" y="390.62" width="79.6" height="0.70" fill="#4f6cf5" fill-opacity="0.22"/><rect x="327.9" y="390.62" width="107.4" height="0.70" fill="#4f6cf5" fill-opacity="0.17"/><rect x="438.8" y="391.62" width="58.5" height="0.70" fill="#4f6cf5" fill-opacity="0.08"/><rect x="434.7" y="391.62" width="56.0" height="0.70" fill="#4f6cf5" fill-opacity="0.29"/><rect x="398.5" y="391.62" width="38.3" height="0.70" fill="#4f6cf5" fill-opacity="0.09"/><rect x="302.0" y="392.20" width="204.2" height="1.60" fill="#4a58e6" fill-opacity="0.35"/><rect x="302.0" y="392.30" width="24.0" height="1.50" fill="#3fa0e0" fill-opacity="0.70"/><rect x="326.0" y="392.40" width="36.0" height="1.40" fill="#4a7cf0" fill-opacity="0.40"/></g>
</svg>
</body></html>
